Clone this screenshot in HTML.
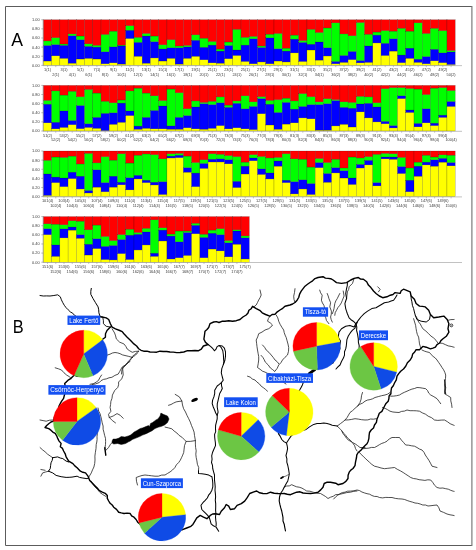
<!DOCTYPE html>
<html><head><meta charset="utf-8"><title>Figure</title>
<style>html,body{margin:0;padding:0;background:#fff;}body{width:476px;height:550px;position:relative;overflow:hidden;font-family:"Liberation Sans",sans-serif;}</style></head>
<body>
<svg width="476" height="550" viewBox="0 0 476 550" style="display:block;position:absolute;left:0;top:0;filter:blur(0.35px)" font-family="'Liberation Sans', sans-serif">
<rect x="0" y="0" width="476" height="550" fill="#fff"/>
<path d="M471.9,6.5 L5.5,6.5 L5.5,545.5 L471.9,545.5" fill="none" stroke="#5c5c5c" stroke-width="1"/><line x1="471.9" y1="6" x2="471.9" y2="546" stroke="#707070" stroke-width="1.1"/>
<text x="11.2" y="45.9" font-size="17.6" fill="#000">A</text>
<text transform="translate(12.7,333) scale(0.88,1)" font-size="18.6" fill="#000">B</text>
<g stroke="#000" stroke-opacity="0.45" stroke-width="0.35"><rect x="43.40" y="61.02" width="8.24" height="4.33" fill="#ffff00"/><rect x="43.40" y="45.42" width="8.24" height="15.60" fill="#0000ff"/><rect x="43.40" y="40.91" width="8.24" height="4.51" fill="#00ff00"/><rect x="43.40" y="19.75" width="8.24" height="21.16" fill="#ff0000"/><rect x="51.64" y="55.77" width="8.24" height="9.58" fill="#ffff00"/><rect x="51.64" y="44.56" width="8.24" height="11.22" fill="#0000ff"/><rect x="51.64" y="37.67" width="8.24" height="6.89" fill="#00ff00"/><rect x="51.64" y="19.75" width="8.24" height="17.92" fill="#ff0000"/><rect x="59.87" y="58.28" width="8.24" height="7.07" fill="#ffff00"/><rect x="59.87" y="45.29" width="8.24" height="13.00" fill="#0000ff"/><rect x="59.87" y="44.01" width="8.24" height="1.28" fill="#00ff00"/><rect x="59.87" y="19.75" width="8.24" height="24.26" fill="#ff0000"/><rect x="68.11" y="63.16" width="8.24" height="2.19" fill="#ffff00"/><rect x="68.11" y="35.71" width="8.24" height="27.45" fill="#0000ff"/><rect x="68.11" y="33.89" width="8.24" height="1.82" fill="#00ff00"/><rect x="68.11" y="19.75" width="8.24" height="14.14" fill="#ff0000"/><rect x="76.34" y="59.01" width="8.24" height="6.34" fill="#ffff00"/><rect x="76.34" y="39.68" width="8.24" height="19.33" fill="#0000ff"/><rect x="76.34" y="36.03" width="8.24" height="3.65" fill="#00ff00"/><rect x="76.34" y="19.75" width="8.24" height="16.28" fill="#ff0000"/><rect x="84.58" y="58.28" width="8.24" height="7.07" fill="#ffff00"/><rect x="84.58" y="46.33" width="8.24" height="11.95" fill="#0000ff"/><rect x="84.58" y="43.83" width="8.24" height="2.51" fill="#00ff00"/><rect x="84.58" y="19.75" width="8.24" height="24.08" fill="#ff0000"/><rect x="92.82" y="59.01" width="8.24" height="6.34" fill="#ffff00"/><rect x="92.82" y="47.11" width="8.24" height="11.90" fill="#0000ff"/><rect x="92.82" y="45.29" width="8.24" height="1.82" fill="#00ff00"/><rect x="92.82" y="19.75" width="8.24" height="25.54" fill="#ff0000"/><rect x="101.05" y="63.71" width="8.24" height="1.64" fill="#ffff00"/><rect x="101.05" y="51.76" width="8.24" height="11.95" fill="#0000ff"/><rect x="101.05" y="34.39" width="8.24" height="17.37" fill="#00ff00"/><rect x="101.05" y="19.75" width="8.24" height="14.64" fill="#ff0000"/><rect x="109.29" y="62.80" width="8.24" height="2.55" fill="#ffff00"/><rect x="109.29" y="46.88" width="8.24" height="15.91" fill="#0000ff"/><rect x="109.29" y="31.15" width="8.24" height="15.73" fill="#00ff00"/><rect x="109.29" y="19.75" width="8.24" height="11.40" fill="#ff0000"/><rect x="117.52" y="64.07" width="8.24" height="1.28" fill="#ffff00"/><rect x="117.52" y="45.97" width="8.24" height="18.10" fill="#0000ff"/><rect x="117.52" y="45.10" width="8.24" height="0.87" fill="#00ff00"/><rect x="117.52" y="19.75" width="8.24" height="25.35" fill="#ff0000"/><rect x="125.76" y="38.45" width="8.24" height="26.90" fill="#ffff00"/><rect x="125.76" y="30.24" width="8.24" height="8.21" fill="#0000ff"/><rect x="125.76" y="25.68" width="8.24" height="4.56" fill="#00ff00"/><rect x="125.76" y="19.75" width="8.24" height="5.93" fill="#ff0000"/><rect x="134.00" y="56.23" width="8.24" height="9.12" fill="#ffff00"/><rect x="134.00" y="42.32" width="8.24" height="13.91" fill="#0000ff"/><rect x="134.00" y="37.31" width="8.24" height="5.02" fill="#00ff00"/><rect x="134.00" y="19.75" width="8.24" height="17.56" fill="#ff0000"/><rect x="142.23" y="63.16" width="8.24" height="2.19" fill="#ffff00"/><rect x="142.23" y="36.03" width="8.24" height="27.13" fill="#0000ff"/><rect x="142.23" y="33.43" width="8.24" height="2.60" fill="#00ff00"/><rect x="142.23" y="19.75" width="8.24" height="13.68" fill="#ff0000"/><rect x="150.47" y="57.92" width="8.24" height="7.43" fill="#ffff00"/><rect x="150.47" y="41.64" width="8.24" height="16.28" fill="#0000ff"/><rect x="150.47" y="36.03" width="8.24" height="5.61" fill="#00ff00"/><rect x="150.47" y="19.75" width="8.24" height="16.28" fill="#ff0000"/><rect x="158.70" y="61.02" width="8.24" height="4.33" fill="#ffff00"/><rect x="158.70" y="48.93" width="8.24" height="12.08" fill="#0000ff"/><rect x="158.70" y="44.74" width="8.24" height="4.20" fill="#00ff00"/><rect x="158.70" y="19.75" width="8.24" height="24.99" fill="#ff0000"/><rect x="166.94" y="58.28" width="8.24" height="7.07" fill="#ffff00"/><rect x="166.94" y="47.79" width="8.24" height="10.49" fill="#0000ff"/><rect x="166.94" y="39.68" width="8.24" height="8.12" fill="#00ff00"/><rect x="166.94" y="19.75" width="8.24" height="19.93" fill="#ff0000"/><rect x="175.18" y="64.07" width="8.24" height="1.28" fill="#ffff00"/><rect x="175.18" y="47.79" width="8.24" height="16.28" fill="#0000ff"/><rect x="175.18" y="45.97" width="8.24" height="1.82" fill="#00ff00"/><rect x="175.18" y="19.75" width="8.24" height="26.22" fill="#ff0000"/><rect x="183.41" y="58.28" width="8.24" height="7.07" fill="#ffff00"/><rect x="183.41" y="46.88" width="8.24" height="11.40" fill="#0000ff"/><rect x="183.41" y="45.42" width="8.24" height="1.46" fill="#00ff00"/><rect x="183.41" y="19.75" width="8.24" height="25.67" fill="#ff0000"/><rect x="191.65" y="56.23" width="8.24" height="9.12" fill="#ffff00"/><rect x="191.65" y="40.27" width="8.24" height="15.96" fill="#0000ff"/><rect x="191.65" y="34.80" width="8.24" height="5.47" fill="#00ff00"/><rect x="191.65" y="19.75" width="8.24" height="15.05" fill="#ff0000"/><rect x="199.88" y="59.74" width="8.24" height="5.61" fill="#ffff00"/><rect x="199.88" y="47.25" width="8.24" height="12.49" fill="#0000ff"/><rect x="199.88" y="38.22" width="8.24" height="9.03" fill="#00ff00"/><rect x="199.88" y="19.75" width="8.24" height="18.47" fill="#ff0000"/><rect x="208.12" y="62.80" width="8.24" height="2.55" fill="#ffff00"/><rect x="208.12" y="45.10" width="8.24" height="17.69" fill="#0000ff"/><rect x="208.12" y="41.46" width="8.24" height="3.65" fill="#00ff00"/><rect x="208.12" y="19.75" width="8.24" height="21.71" fill="#ff0000"/><rect x="216.36" y="63.16" width="8.24" height="2.19" fill="#ffff00"/><rect x="216.36" y="51.08" width="8.24" height="12.08" fill="#0000ff"/><rect x="216.36" y="49.07" width="8.24" height="2.01" fill="#00ff00"/><rect x="216.36" y="19.75" width="8.24" height="29.32" fill="#ff0000"/><rect x="224.59" y="58.65" width="8.24" height="6.70" fill="#ffff00"/><rect x="224.59" y="45.42" width="8.24" height="13.22" fill="#0000ff"/><rect x="224.59" y="42.00" width="8.24" height="3.42" fill="#00ff00"/><rect x="224.59" y="19.75" width="8.24" height="22.25" fill="#ff0000"/><rect x="232.83" y="55.41" width="8.24" height="9.94" fill="#ffff00"/><rect x="232.83" y="49.98" width="8.24" height="5.43" fill="#0000ff"/><rect x="232.83" y="29.33" width="8.24" height="20.66" fill="#00ff00"/><rect x="232.83" y="19.75" width="8.24" height="9.58" fill="#ff0000"/><rect x="241.06" y="61.38" width="8.24" height="3.97" fill="#ffff00"/><rect x="241.06" y="45.10" width="8.24" height="16.28" fill="#0000ff"/><rect x="241.06" y="37.31" width="8.24" height="7.80" fill="#00ff00"/><rect x="241.06" y="19.75" width="8.24" height="17.56" fill="#ff0000"/><rect x="249.30" y="63.71" width="8.24" height="1.64" fill="#ffff00"/><rect x="249.30" y="38.77" width="8.24" height="24.94" fill="#0000ff"/><rect x="249.30" y="36.39" width="8.24" height="2.37" fill="#00ff00"/><rect x="249.30" y="19.75" width="8.24" height="16.64" fill="#ff0000"/><rect x="257.54" y="61.93" width="8.24" height="3.42" fill="#ffff00"/><rect x="257.54" y="47.43" width="8.24" height="14.50" fill="#0000ff"/><rect x="257.54" y="45.97" width="8.24" height="1.46" fill="#00ff00"/><rect x="257.54" y="19.75" width="8.24" height="26.22" fill="#ff0000"/><rect x="265.77" y="63.71" width="8.24" height="1.64" fill="#ffff00"/><rect x="265.77" y="37.85" width="8.24" height="25.86" fill="#0000ff"/><rect x="265.77" y="34.21" width="8.24" height="3.65" fill="#00ff00"/><rect x="265.77" y="19.75" width="8.24" height="14.46" fill="#ff0000"/><rect x="274.01" y="61.02" width="8.24" height="4.33" fill="#ffff00"/><rect x="274.01" y="48.71" width="8.24" height="12.31" fill="#0000ff"/><rect x="274.01" y="33.43" width="8.24" height="15.28" fill="#00ff00"/><rect x="274.01" y="19.75" width="8.24" height="13.68" fill="#ff0000"/><rect x="282.24" y="61.93" width="8.24" height="3.42" fill="#ffff00"/><rect x="282.24" y="51.08" width="8.24" height="10.85" fill="#0000ff"/><rect x="282.24" y="48.16" width="8.24" height="2.92" fill="#00ff00"/><rect x="282.24" y="19.75" width="8.24" height="28.41" fill="#ff0000"/><rect x="290.48" y="52.86" width="8.24" height="12.49" fill="#ffff00"/><rect x="290.48" y="39.13" width="8.24" height="13.73" fill="#0000ff"/><rect x="290.48" y="35.12" width="8.24" height="4.01" fill="#00ff00"/><rect x="290.48" y="19.75" width="8.24" height="15.37" fill="#ff0000"/><rect x="298.72" y="61.38" width="8.24" height="3.97" fill="#ffff00"/><rect x="298.72" y="42.37" width="8.24" height="19.02" fill="#0000ff"/><rect x="298.72" y="40.54" width="8.24" height="1.82" fill="#00ff00"/><rect x="298.72" y="19.75" width="8.24" height="20.79" fill="#ff0000"/><rect x="306.95" y="49.98" width="8.24" height="15.37" fill="#ffff00"/><rect x="306.95" y="44.19" width="8.24" height="5.79" fill="#0000ff"/><rect x="306.95" y="29.33" width="8.24" height="14.87" fill="#00ff00"/><rect x="306.95" y="19.75" width="8.24" height="9.58" fill="#ff0000"/><rect x="315.19" y="60.11" width="8.24" height="5.24" fill="#ffff00"/><rect x="315.19" y="42.00" width="8.24" height="18.10" fill="#0000ff"/><rect x="315.19" y="32.43" width="8.24" height="9.58" fill="#00ff00"/><rect x="315.19" y="19.75" width="8.24" height="12.68" fill="#ff0000"/><rect x="323.42" y="55.96" width="8.24" height="9.39" fill="#ffff00"/><rect x="323.42" y="47.79" width="8.24" height="8.16" fill="#0000ff"/><rect x="323.42" y="27.96" width="8.24" height="19.84" fill="#00ff00"/><rect x="323.42" y="19.75" width="8.24" height="8.21" fill="#ff0000"/><rect x="331.66" y="63.71" width="8.24" height="1.64" fill="#ffff00"/><rect x="331.66" y="61.38" width="8.24" height="2.33" fill="#0000ff"/><rect x="331.66" y="22.81" width="8.24" height="38.58" fill="#00ff00"/><rect x="331.66" y="19.75" width="8.24" height="3.06" fill="#ff0000"/><rect x="339.90" y="62.29" width="8.24" height="3.06" fill="#ffff00"/><rect x="339.90" y="55.41" width="8.24" height="6.89" fill="#0000ff"/><rect x="339.90" y="33.89" width="8.24" height="21.52" fill="#00ff00"/><rect x="339.90" y="19.75" width="8.24" height="14.14" fill="#ff0000"/><rect x="348.13" y="59.56" width="8.24" height="5.79" fill="#ffff00"/><rect x="348.13" y="51.40" width="8.24" height="8.16" fill="#0000ff"/><rect x="348.13" y="35.71" width="8.24" height="15.69" fill="#00ff00"/><rect x="348.13" y="19.75" width="8.24" height="15.96" fill="#ff0000"/><rect x="356.37" y="62.80" width="8.24" height="2.55" fill="#ffff00"/><rect x="356.37" y="60.47" width="8.24" height="2.33" fill="#0000ff"/><rect x="356.37" y="22.49" width="8.24" height="37.98" fill="#00ff00"/><rect x="356.37" y="19.75" width="8.24" height="2.74" fill="#ff0000"/><rect x="364.60" y="62.29" width="8.24" height="3.06" fill="#ffff00"/><rect x="364.60" y="45.97" width="8.24" height="16.32" fill="#0000ff"/><rect x="364.60" y="34.21" width="8.24" height="11.76" fill="#00ff00"/><rect x="364.60" y="19.75" width="8.24" height="14.46" fill="#ff0000"/><rect x="372.84" y="42.91" width="8.24" height="22.44" fill="#ffff00"/><rect x="372.84" y="35.12" width="8.24" height="7.80" fill="#0000ff"/><rect x="372.84" y="32.06" width="8.24" height="3.06" fill="#00ff00"/><rect x="372.84" y="19.75" width="8.24" height="12.31" fill="#ff0000"/><rect x="381.08" y="55.41" width="8.24" height="9.94" fill="#ffff00"/><rect x="381.08" y="43.28" width="8.24" height="12.13" fill="#0000ff"/><rect x="381.08" y="30.60" width="8.24" height="12.68" fill="#00ff00"/><rect x="381.08" y="19.75" width="8.24" height="10.85" fill="#ff0000"/><rect x="389.31" y="51.08" width="8.24" height="14.27" fill="#ffff00"/><rect x="389.31" y="38.77" width="8.24" height="12.31" fill="#0000ff"/><rect x="389.31" y="31.15" width="8.24" height="7.62" fill="#00ff00"/><rect x="389.31" y="19.75" width="8.24" height="11.40" fill="#ff0000"/><rect x="397.55" y="62.61" width="8.24" height="2.74" fill="#ffff00"/><rect x="397.55" y="55.04" width="8.24" height="7.57" fill="#0000ff"/><rect x="397.55" y="28.28" width="8.24" height="26.77" fill="#00ff00"/><rect x="397.55" y="19.75" width="8.24" height="8.53" fill="#ff0000"/><rect x="405.78" y="58.28" width="8.24" height="7.07" fill="#ffff00"/><rect x="405.78" y="48.16" width="8.24" height="10.12" fill="#0000ff"/><rect x="405.78" y="31.15" width="8.24" height="17.01" fill="#00ff00"/><rect x="405.78" y="19.75" width="8.24" height="11.40" fill="#ff0000"/><rect x="414.02" y="62.29" width="8.24" height="3.06" fill="#ffff00"/><rect x="414.02" y="59.19" width="8.24" height="3.10" fill="#0000ff"/><rect x="414.02" y="22.81" width="8.24" height="36.39" fill="#00ff00"/><rect x="414.02" y="19.75" width="8.24" height="3.06" fill="#ff0000"/><rect x="422.26" y="63.71" width="8.24" height="1.64" fill="#ffff00"/><rect x="422.26" y="56.50" width="8.24" height="7.20" fill="#0000ff"/><rect x="422.26" y="33.43" width="8.24" height="23.07" fill="#00ff00"/><rect x="422.26" y="19.75" width="8.24" height="13.68" fill="#ff0000"/><rect x="430.49" y="60.79" width="8.24" height="4.56" fill="#ffff00"/><rect x="430.49" y="49.25" width="8.24" height="11.54" fill="#0000ff"/><rect x="430.49" y="28.28" width="8.24" height="20.98" fill="#00ff00"/><rect x="430.49" y="19.75" width="8.24" height="8.53" fill="#ff0000"/><rect x="438.73" y="62.61" width="8.24" height="2.74" fill="#ffff00"/><rect x="438.73" y="52.86" width="8.24" height="9.76" fill="#0000ff"/><rect x="438.73" y="30.60" width="8.24" height="22.25" fill="#00ff00"/><rect x="438.73" y="19.75" width="8.24" height="10.85" fill="#ff0000"/><rect x="446.96" y="64.44" width="8.24" height="0.91" fill="#ffff00"/><rect x="446.96" y="51.94" width="8.24" height="12.49" fill="#0000ff"/><rect x="446.96" y="50.53" width="8.24" height="1.41" fill="#00ff00"/><rect x="446.96" y="19.75" width="8.24" height="30.78" fill="#ff0000"/></g>
<line x1="43.1" y1="65.65" x2="462.0" y2="65.65" stroke="#999" stroke-width="0.6"/>
<line x1="43.1" y1="19.75" x2="43.1" y2="65.65" stroke="#777" stroke-width="0.5"/>
<line x1="41.3" y1="65.35" x2="43.1" y2="65.35" stroke="#666" stroke-width="0.45"/><text x="39.6" y="66.75" font-size="3.9" text-anchor="end" fill="#3a3a3a">0.00</text><line x1="41.3" y1="56.23" x2="43.1" y2="56.23" stroke="#666" stroke-width="0.45"/><text x="39.6" y="57.63" font-size="3.9" text-anchor="end" fill="#3a3a3a">0.20</text><line x1="41.3" y1="47.11" x2="43.1" y2="47.11" stroke="#666" stroke-width="0.45"/><text x="39.6" y="48.51" font-size="3.9" text-anchor="end" fill="#3a3a3a">0.40</text><line x1="41.3" y1="37.99" x2="43.1" y2="37.99" stroke="#666" stroke-width="0.45"/><text x="39.6" y="39.39" font-size="3.9" text-anchor="end" fill="#3a3a3a">0.60</text><line x1="41.3" y1="28.87" x2="43.1" y2="28.87" stroke="#666" stroke-width="0.45"/><text x="39.6" y="30.27" font-size="3.9" text-anchor="end" fill="#3a3a3a">0.80</text><line x1="41.3" y1="19.75" x2="43.1" y2="19.75" stroke="#666" stroke-width="0.45"/><text x="39.6" y="21.15" font-size="3.9" text-anchor="end" fill="#3a3a3a">1.00</text>
<line x1="47.52" y1="65.65" x2="47.52" y2="67.15" stroke="#777" stroke-width="0.4"/><text x="47.52" y="70.95" font-size="3.9" text-anchor="middle" fill="#3a3a3a">1(1)</text><line x1="55.75" y1="65.65" x2="55.75" y2="67.15" stroke="#777" stroke-width="0.4"/><text x="55.75" y="75.65" font-size="3.9" text-anchor="middle" fill="#3a3a3a">2(1)</text><line x1="63.99" y1="65.65" x2="63.99" y2="67.15" stroke="#777" stroke-width="0.4"/><text x="63.99" y="70.95" font-size="3.9" text-anchor="middle" fill="#3a3a3a">3(1)</text><line x1="72.23" y1="65.65" x2="72.23" y2="67.15" stroke="#777" stroke-width="0.4"/><text x="72.23" y="75.65" font-size="3.9" text-anchor="middle" fill="#3a3a3a">4(1)</text><line x1="80.46" y1="65.65" x2="80.46" y2="67.15" stroke="#777" stroke-width="0.4"/><text x="80.46" y="70.95" font-size="3.9" text-anchor="middle" fill="#3a3a3a">5(1)</text><line x1="88.70" y1="65.65" x2="88.70" y2="67.15" stroke="#777" stroke-width="0.4"/><text x="88.70" y="75.65" font-size="3.9" text-anchor="middle" fill="#3a3a3a">6(1)</text><line x1="96.93" y1="65.65" x2="96.93" y2="67.15" stroke="#777" stroke-width="0.4"/><text x="96.93" y="70.95" font-size="3.9" text-anchor="middle" fill="#3a3a3a">7(1)</text><line x1="105.17" y1="65.65" x2="105.17" y2="67.15" stroke="#777" stroke-width="0.4"/><text x="105.17" y="75.65" font-size="3.9" text-anchor="middle" fill="#3a3a3a">8(1)</text><line x1="113.41" y1="65.65" x2="113.41" y2="67.15" stroke="#777" stroke-width="0.4"/><text x="113.41" y="70.95" font-size="3.9" text-anchor="middle" fill="#3a3a3a">9(1)</text><line x1="121.64" y1="65.65" x2="121.64" y2="67.15" stroke="#777" stroke-width="0.4"/><text x="121.64" y="75.65" font-size="3.9" text-anchor="middle" fill="#3a3a3a">10(1)</text><line x1="129.88" y1="65.65" x2="129.88" y2="67.15" stroke="#777" stroke-width="0.4"/><text x="129.88" y="70.95" font-size="3.9" text-anchor="middle" fill="#3a3a3a">11(1)</text><line x1="138.11" y1="65.65" x2="138.11" y2="67.15" stroke="#777" stroke-width="0.4"/><text x="138.11" y="75.65" font-size="3.9" text-anchor="middle" fill="#3a3a3a">12(1)</text><line x1="146.35" y1="65.65" x2="146.35" y2="67.15" stroke="#777" stroke-width="0.4"/><text x="146.35" y="70.95" font-size="3.9" text-anchor="middle" fill="#3a3a3a">13(1)</text><line x1="154.59" y1="65.65" x2="154.59" y2="67.15" stroke="#777" stroke-width="0.4"/><text x="154.59" y="75.65" font-size="3.9" text-anchor="middle" fill="#3a3a3a">14(1)</text><line x1="162.82" y1="65.65" x2="162.82" y2="67.15" stroke="#777" stroke-width="0.4"/><text x="162.82" y="70.95" font-size="3.9" text-anchor="middle" fill="#3a3a3a">15(1)</text><line x1="171.06" y1="65.65" x2="171.06" y2="67.15" stroke="#777" stroke-width="0.4"/><text x="171.06" y="75.65" font-size="3.9" text-anchor="middle" fill="#3a3a3a">16(1)</text><line x1="179.29" y1="65.65" x2="179.29" y2="67.15" stroke="#777" stroke-width="0.4"/><text x="179.29" y="70.95" font-size="3.9" text-anchor="middle" fill="#3a3a3a">17(1)</text><line x1="187.53" y1="65.65" x2="187.53" y2="67.15" stroke="#777" stroke-width="0.4"/><text x="187.53" y="75.65" font-size="3.9" text-anchor="middle" fill="#3a3a3a">18(1)</text><line x1="195.77" y1="65.65" x2="195.77" y2="67.15" stroke="#777" stroke-width="0.4"/><text x="195.77" y="70.95" font-size="3.9" text-anchor="middle" fill="#3a3a3a">19(1)</text><line x1="204.00" y1="65.65" x2="204.00" y2="67.15" stroke="#777" stroke-width="0.4"/><text x="204.00" y="75.65" font-size="3.9" text-anchor="middle" fill="#3a3a3a">20(1)</text><line x1="212.24" y1="65.65" x2="212.24" y2="67.15" stroke="#777" stroke-width="0.4"/><text x="212.24" y="70.95" font-size="3.9" text-anchor="middle" fill="#3a3a3a">21(1)</text><line x1="220.47" y1="65.65" x2="220.47" y2="67.15" stroke="#777" stroke-width="0.4"/><text x="220.47" y="75.65" font-size="3.9" text-anchor="middle" fill="#3a3a3a">22(1)</text><line x1="228.71" y1="65.65" x2="228.71" y2="67.15" stroke="#777" stroke-width="0.4"/><text x="228.71" y="70.95" font-size="3.9" text-anchor="middle" fill="#3a3a3a">23(1)</text><line x1="236.95" y1="65.65" x2="236.95" y2="67.15" stroke="#777" stroke-width="0.4"/><text x="236.95" y="75.65" font-size="3.9" text-anchor="middle" fill="#3a3a3a">24(1)</text><line x1="245.18" y1="65.65" x2="245.18" y2="67.15" stroke="#777" stroke-width="0.4"/><text x="245.18" y="70.95" font-size="3.9" text-anchor="middle" fill="#3a3a3a">25(1)</text><line x1="253.42" y1="65.65" x2="253.42" y2="67.15" stroke="#777" stroke-width="0.4"/><text x="253.42" y="75.65" font-size="3.9" text-anchor="middle" fill="#3a3a3a">26(1)</text><line x1="261.65" y1="65.65" x2="261.65" y2="67.15" stroke="#777" stroke-width="0.4"/><text x="261.65" y="70.95" font-size="3.9" text-anchor="middle" fill="#3a3a3a">27(1)</text><line x1="269.89" y1="65.65" x2="269.89" y2="67.15" stroke="#777" stroke-width="0.4"/><text x="269.89" y="75.65" font-size="3.9" text-anchor="middle" fill="#3a3a3a">28(1)</text><line x1="278.13" y1="65.65" x2="278.13" y2="67.15" stroke="#777" stroke-width="0.4"/><text x="278.13" y="70.95" font-size="3.9" text-anchor="middle" fill="#3a3a3a">29(1)</text><line x1="286.36" y1="65.65" x2="286.36" y2="67.15" stroke="#777" stroke-width="0.4"/><text x="286.36" y="75.65" font-size="3.9" text-anchor="middle" fill="#3a3a3a">30(1)</text><line x1="294.60" y1="65.65" x2="294.60" y2="67.15" stroke="#777" stroke-width="0.4"/><text x="294.60" y="70.95" font-size="3.9" text-anchor="middle" fill="#3a3a3a">31(1)</text><line x1="302.83" y1="65.65" x2="302.83" y2="67.15" stroke="#777" stroke-width="0.4"/><text x="302.83" y="75.65" font-size="3.9" text-anchor="middle" fill="#3a3a3a">32(1)</text><line x1="311.07" y1="65.65" x2="311.07" y2="67.15" stroke="#777" stroke-width="0.4"/><text x="311.07" y="70.95" font-size="3.9" text-anchor="middle" fill="#3a3a3a">33(1)</text><line x1="319.31" y1="65.65" x2="319.31" y2="67.15" stroke="#777" stroke-width="0.4"/><text x="319.31" y="75.65" font-size="3.9" text-anchor="middle" fill="#3a3a3a">34(1)</text><line x1="327.54" y1="65.65" x2="327.54" y2="67.15" stroke="#777" stroke-width="0.4"/><text x="327.54" y="70.95" font-size="3.9" text-anchor="middle" fill="#3a3a3a">35(2)</text><line x1="335.78" y1="65.65" x2="335.78" y2="67.15" stroke="#777" stroke-width="0.4"/><text x="335.78" y="75.65" font-size="3.9" text-anchor="middle" fill="#3a3a3a">36(2)</text><line x1="344.01" y1="65.65" x2="344.01" y2="67.15" stroke="#777" stroke-width="0.4"/><text x="344.01" y="70.95" font-size="3.9" text-anchor="middle" fill="#3a3a3a">37(2)</text><line x1="352.25" y1="65.65" x2="352.25" y2="67.15" stroke="#777" stroke-width="0.4"/><text x="352.25" y="75.65" font-size="3.9" text-anchor="middle" fill="#3a3a3a">38(2)</text><line x1="360.49" y1="65.65" x2="360.49" y2="67.15" stroke="#777" stroke-width="0.4"/><text x="360.49" y="70.95" font-size="3.9" text-anchor="middle" fill="#3a3a3a">39(2)</text><line x1="368.72" y1="65.65" x2="368.72" y2="67.15" stroke="#777" stroke-width="0.4"/><text x="368.72" y="75.65" font-size="3.9" text-anchor="middle" fill="#3a3a3a">40(2)</text><line x1="376.96" y1="65.65" x2="376.96" y2="67.15" stroke="#777" stroke-width="0.4"/><text x="376.96" y="70.95" font-size="3.9" text-anchor="middle" fill="#3a3a3a">41(2)</text><line x1="385.19" y1="65.65" x2="385.19" y2="67.15" stroke="#777" stroke-width="0.4"/><text x="385.19" y="75.65" font-size="3.9" text-anchor="middle" fill="#3a3a3a">42(2)</text><line x1="393.43" y1="65.65" x2="393.43" y2="67.15" stroke="#777" stroke-width="0.4"/><text x="393.43" y="70.95" font-size="3.9" text-anchor="middle" fill="#3a3a3a">43(2)</text><line x1="401.67" y1="65.65" x2="401.67" y2="67.15" stroke="#777" stroke-width="0.4"/><text x="401.67" y="75.65" font-size="3.9" text-anchor="middle" fill="#3a3a3a">44(2)</text><line x1="409.90" y1="65.65" x2="409.90" y2="67.15" stroke="#777" stroke-width="0.4"/><text x="409.90" y="70.95" font-size="3.9" text-anchor="middle" fill="#3a3a3a">45(2)</text><line x1="418.14" y1="65.65" x2="418.14" y2="67.15" stroke="#777" stroke-width="0.4"/><text x="418.14" y="75.65" font-size="3.9" text-anchor="middle" fill="#3a3a3a">46(2)</text><line x1="426.37" y1="65.65" x2="426.37" y2="67.15" stroke="#777" stroke-width="0.4"/><text x="426.37" y="70.95" font-size="3.9" text-anchor="middle" fill="#3a3a3a">47(2)</text><line x1="434.61" y1="65.65" x2="434.61" y2="67.15" stroke="#777" stroke-width="0.4"/><text x="434.61" y="75.65" font-size="3.9" text-anchor="middle" fill="#3a3a3a">48(2)</text><line x1="442.85" y1="65.65" x2="442.85" y2="67.15" stroke="#777" stroke-width="0.4"/><text x="442.85" y="70.95" font-size="3.9" text-anchor="middle" fill="#3a3a3a">49(2)</text><line x1="451.08" y1="65.65" x2="451.08" y2="67.15" stroke="#777" stroke-width="0.4"/><text x="451.08" y="75.65" font-size="3.9" text-anchor="middle" fill="#3a3a3a">50(2)</text>
<g stroke="#000" stroke-opacity="0.45" stroke-width="0.35"><rect x="43.40" y="122.79" width="8.24" height="8.21" fill="#ffff00"/><rect x="43.40" y="104.19" width="8.24" height="18.60" fill="#0000ff"/><rect x="43.40" y="100.36" width="8.24" height="3.83" fill="#00ff00"/><rect x="43.40" y="85.40" width="8.24" height="14.96" fill="#ff0000"/><rect x="51.64" y="128.81" width="8.24" height="2.19" fill="#ffff00"/><rect x="51.64" y="122.24" width="8.24" height="6.57" fill="#0000ff"/><rect x="51.64" y="90.87" width="8.24" height="31.37" fill="#00ff00"/><rect x="51.64" y="85.40" width="8.24" height="5.47" fill="#ff0000"/><rect x="59.87" y="127.35" width="8.24" height="3.65" fill="#ffff00"/><rect x="59.87" y="110.94" width="8.24" height="16.42" fill="#0000ff"/><rect x="59.87" y="95.07" width="8.24" height="15.87" fill="#00ff00"/><rect x="59.87" y="85.40" width="8.24" height="9.67" fill="#ff0000"/><rect x="68.11" y="124.62" width="8.24" height="6.38" fill="#ffff00"/><rect x="68.11" y="120.42" width="8.24" height="4.20" fill="#0000ff"/><rect x="68.11" y="91.24" width="8.24" height="29.18" fill="#00ff00"/><rect x="68.11" y="85.40" width="8.24" height="5.84" fill="#ff0000"/><rect x="76.34" y="128.63" width="8.24" height="2.37" fill="#ffff00"/><rect x="76.34" y="105.46" width="8.24" height="23.16" fill="#0000ff"/><rect x="76.34" y="96.71" width="8.24" height="8.76" fill="#00ff00"/><rect x="76.34" y="85.40" width="8.24" height="11.31" fill="#ff0000"/><rect x="84.58" y="127.35" width="8.24" height="3.65" fill="#ffff00"/><rect x="84.58" y="123.70" width="8.24" height="3.65" fill="#0000ff"/><rect x="84.58" y="89.41" width="8.24" height="34.29" fill="#00ff00"/><rect x="84.58" y="85.40" width="8.24" height="4.01" fill="#ff0000"/><rect x="92.82" y="128.26" width="8.24" height="2.74" fill="#ffff00"/><rect x="92.82" y="117.32" width="8.24" height="10.94" fill="#0000ff"/><rect x="92.82" y="93.06" width="8.24" height="24.26" fill="#00ff00"/><rect x="92.82" y="85.40" width="8.24" height="7.66" fill="#ff0000"/><rect x="101.05" y="130.54" width="8.24" height="0.46" fill="#ffff00"/><rect x="101.05" y="113.31" width="8.24" height="17.24" fill="#0000ff"/><rect x="101.05" y="101.27" width="8.24" height="12.04" fill="#00ff00"/><rect x="101.05" y="85.40" width="8.24" height="15.87" fill="#ff0000"/><rect x="109.29" y="124.25" width="8.24" height="6.75" fill="#ffff00"/><rect x="109.29" y="112.76" width="8.24" height="11.49" fill="#0000ff"/><rect x="109.29" y="102.73" width="8.24" height="10.03" fill="#00ff00"/><rect x="109.29" y="85.40" width="8.24" height="17.33" fill="#ff0000"/><rect x="117.52" y="122.24" width="8.24" height="8.76" fill="#ffff00"/><rect x="117.52" y="103.09" width="8.24" height="19.15" fill="#0000ff"/><rect x="117.52" y="99.99" width="8.24" height="3.10" fill="#00ff00"/><rect x="117.52" y="85.40" width="8.24" height="14.59" fill="#ff0000"/><rect x="125.76" y="115.50" width="8.24" height="15.50" fill="#ffff00"/><rect x="125.76" y="110.94" width="8.24" height="4.56" fill="#0000ff"/><rect x="125.76" y="90.87" width="8.24" height="20.06" fill="#00ff00"/><rect x="125.76" y="85.40" width="8.24" height="5.47" fill="#ff0000"/><rect x="134.00" y="129.18" width="8.24" height="1.82" fill="#ffff00"/><rect x="134.00" y="126.08" width="8.24" height="3.10" fill="#0000ff"/><rect x="134.00" y="88.14" width="8.24" height="37.94" fill="#00ff00"/><rect x="134.00" y="85.40" width="8.24" height="2.74" fill="#ff0000"/><rect x="142.23" y="128.26" width="8.24" height="2.74" fill="#ffff00"/><rect x="142.23" y="117.32" width="8.24" height="10.94" fill="#0000ff"/><rect x="142.23" y="93.06" width="8.24" height="24.26" fill="#00ff00"/><rect x="142.23" y="85.40" width="8.24" height="7.66" fill="#ff0000"/><rect x="150.47" y="128.81" width="8.24" height="2.19" fill="#ffff00"/><rect x="150.47" y="110.39" width="8.24" height="18.42" fill="#0000ff"/><rect x="150.47" y="95.80" width="8.24" height="14.59" fill="#00ff00"/><rect x="150.47" y="85.40" width="8.24" height="10.40" fill="#ff0000"/><rect x="158.70" y="128.81" width="8.24" height="2.19" fill="#ffff00"/><rect x="158.70" y="106.01" width="8.24" height="22.80" fill="#0000ff"/><rect x="158.70" y="100.54" width="8.24" height="5.47" fill="#00ff00"/><rect x="158.70" y="85.40" width="8.24" height="15.14" fill="#ff0000"/><rect x="166.94" y="129.18" width="8.24" height="1.82" fill="#ffff00"/><rect x="166.94" y="125.89" width="8.24" height="3.28" fill="#0000ff"/><rect x="166.94" y="89.05" width="8.24" height="36.84" fill="#00ff00"/><rect x="166.94" y="85.40" width="8.24" height="3.65" fill="#ff0000"/><rect x="175.18" y="129.18" width="8.24" height="1.82" fill="#ffff00"/><rect x="175.18" y="117.32" width="8.24" height="11.86" fill="#0000ff"/><rect x="175.18" y="92.70" width="8.24" height="24.62" fill="#00ff00"/><rect x="175.18" y="85.40" width="8.24" height="7.30" fill="#ff0000"/><rect x="183.41" y="127.72" width="8.24" height="3.28" fill="#ffff00"/><rect x="183.41" y="115.50" width="8.24" height="12.22" fill="#0000ff"/><rect x="183.41" y="108.75" width="8.24" height="6.75" fill="#00ff00"/><rect x="183.41" y="85.40" width="8.24" height="23.35" fill="#ff0000"/><rect x="191.65" y="128.81" width="8.24" height="2.19" fill="#ffff00"/><rect x="191.65" y="106.92" width="8.24" height="21.89" fill="#0000ff"/><rect x="191.65" y="100.90" width="8.24" height="6.02" fill="#00ff00"/><rect x="191.65" y="85.40" width="8.24" height="15.50" fill="#ff0000"/><rect x="199.88" y="129.18" width="8.24" height="1.82" fill="#ffff00"/><rect x="199.88" y="103.64" width="8.24" height="25.54" fill="#0000ff"/><rect x="199.88" y="102.36" width="8.24" height="1.28" fill="#00ff00"/><rect x="199.88" y="85.40" width="8.24" height="16.96" fill="#ff0000"/><rect x="208.12" y="128.26" width="8.24" height="2.74" fill="#ffff00"/><rect x="208.12" y="104.55" width="8.24" height="23.71" fill="#0000ff"/><rect x="208.12" y="101.27" width="8.24" height="3.28" fill="#00ff00"/><rect x="208.12" y="85.40" width="8.24" height="15.87" fill="#ff0000"/><rect x="216.36" y="125.53" width="8.24" height="5.47" fill="#ffff00"/><rect x="216.36" y="102.73" width="8.24" height="22.80" fill="#0000ff"/><rect x="216.36" y="96.89" width="8.24" height="5.84" fill="#00ff00"/><rect x="216.36" y="85.40" width="8.24" height="11.49" fill="#ff0000"/><rect x="224.59" y="128.81" width="8.24" height="2.19" fill="#ffff00"/><rect x="224.59" y="107.29" width="8.24" height="21.52" fill="#0000ff"/><rect x="224.59" y="105.10" width="8.24" height="2.19" fill="#00ff00"/><rect x="224.59" y="85.40" width="8.24" height="19.70" fill="#ff0000"/><rect x="232.83" y="127.72" width="8.24" height="3.28" fill="#ffff00"/><rect x="232.83" y="103.28" width="8.24" height="24.44" fill="#0000ff"/><rect x="232.83" y="100.90" width="8.24" height="2.37" fill="#00ff00"/><rect x="232.83" y="85.40" width="8.24" height="15.50" fill="#ff0000"/><rect x="241.06" y="128.81" width="8.24" height="2.19" fill="#ffff00"/><rect x="241.06" y="108.75" width="8.24" height="20.06" fill="#0000ff"/><rect x="241.06" y="95.80" width="8.24" height="12.95" fill="#00ff00"/><rect x="241.06" y="85.40" width="8.24" height="10.40" fill="#ff0000"/><rect x="249.30" y="129.54" width="8.24" height="1.46" fill="#ffff00"/><rect x="249.30" y="106.38" width="8.24" height="23.16" fill="#0000ff"/><rect x="249.30" y="101.82" width="8.24" height="4.56" fill="#00ff00"/><rect x="249.30" y="85.40" width="8.24" height="16.42" fill="#ff0000"/><rect x="257.54" y="113.67" width="8.24" height="17.33" fill="#ffff00"/><rect x="257.54" y="98.53" width="8.24" height="15.14" fill="#0000ff"/><rect x="257.54" y="96.71" width="8.24" height="1.82" fill="#00ff00"/><rect x="257.54" y="85.40" width="8.24" height="11.31" fill="#ff0000"/><rect x="265.77" y="124.98" width="8.24" height="6.02" fill="#ffff00"/><rect x="265.77" y="104.19" width="8.24" height="20.79" fill="#0000ff"/><rect x="265.77" y="100.36" width="8.24" height="3.83" fill="#00ff00"/><rect x="265.77" y="85.40" width="8.24" height="14.96" fill="#ff0000"/><rect x="274.01" y="129.18" width="8.24" height="1.82" fill="#ffff00"/><rect x="274.01" y="112.40" width="8.24" height="16.78" fill="#0000ff"/><rect x="274.01" y="99.63" width="8.24" height="12.77" fill="#00ff00"/><rect x="274.01" y="85.40" width="8.24" height="14.23" fill="#ff0000"/><rect x="282.24" y="124.07" width="8.24" height="6.93" fill="#ffff00"/><rect x="282.24" y="102.36" width="8.24" height="21.71" fill="#0000ff"/><rect x="282.24" y="98.17" width="8.24" height="4.20" fill="#00ff00"/><rect x="282.24" y="85.40" width="8.24" height="12.77" fill="#ff0000"/><rect x="290.48" y="122.79" width="8.24" height="8.21" fill="#ffff00"/><rect x="290.48" y="109.11" width="8.24" height="13.68" fill="#0000ff"/><rect x="290.48" y="100.90" width="8.24" height="8.21" fill="#00ff00"/><rect x="290.48" y="85.40" width="8.24" height="15.50" fill="#ff0000"/><rect x="298.72" y="117.87" width="8.24" height="13.13" fill="#ffff00"/><rect x="298.72" y="106.38" width="8.24" height="11.49" fill="#0000ff"/><rect x="298.72" y="93.61" width="8.24" height="12.77" fill="#00ff00"/><rect x="298.72" y="85.40" width="8.24" height="8.21" fill="#ff0000"/><rect x="306.95" y="118.78" width="8.24" height="12.22" fill="#ffff00"/><rect x="306.95" y="104.55" width="8.24" height="14.23" fill="#0000ff"/><rect x="306.95" y="96.71" width="8.24" height="7.84" fill="#00ff00"/><rect x="306.95" y="85.40" width="8.24" height="11.31" fill="#ff0000"/><rect x="315.19" y="130.09" width="8.24" height="0.91" fill="#ffff00"/><rect x="315.19" y="104.55" width="8.24" height="25.54" fill="#0000ff"/><rect x="315.19" y="101.82" width="8.24" height="2.74" fill="#00ff00"/><rect x="315.19" y="85.40" width="8.24" height="16.42" fill="#ff0000"/><rect x="323.42" y="130.09" width="8.24" height="0.91" fill="#ffff00"/><rect x="323.42" y="103.64" width="8.24" height="26.45" fill="#0000ff"/><rect x="323.42" y="98.72" width="8.24" height="4.92" fill="#00ff00"/><rect x="323.42" y="85.40" width="8.24" height="13.32" fill="#ff0000"/><rect x="331.66" y="125.89" width="8.24" height="5.11" fill="#ffff00"/><rect x="331.66" y="100.54" width="8.24" height="25.35" fill="#0000ff"/><rect x="331.66" y="99.63" width="8.24" height="0.91" fill="#00ff00"/><rect x="331.66" y="85.40" width="8.24" height="14.23" fill="#ff0000"/><rect x="339.90" y="124.25" width="8.24" height="6.75" fill="#ffff00"/><rect x="339.90" y="107.29" width="8.24" height="16.96" fill="#0000ff"/><rect x="339.90" y="101.82" width="8.24" height="5.47" fill="#00ff00"/><rect x="339.90" y="85.40" width="8.24" height="16.42" fill="#ff0000"/><rect x="348.13" y="126.99" width="8.24" height="4.01" fill="#ffff00"/><rect x="348.13" y="108.20" width="8.24" height="18.79" fill="#0000ff"/><rect x="348.13" y="102.36" width="8.24" height="5.84" fill="#00ff00"/><rect x="348.13" y="85.40" width="8.24" height="16.96" fill="#ff0000"/><rect x="356.37" y="111.85" width="8.24" height="19.15" fill="#ffff00"/><rect x="356.37" y="104.00" width="8.24" height="7.84" fill="#0000ff"/><rect x="356.37" y="96.34" width="8.24" height="7.66" fill="#00ff00"/><rect x="356.37" y="85.40" width="8.24" height="10.94" fill="#ff0000"/><rect x="364.60" y="117.87" width="8.24" height="13.13" fill="#ffff00"/><rect x="364.60" y="103.28" width="8.24" height="14.59" fill="#0000ff"/><rect x="364.60" y="96.89" width="8.24" height="6.38" fill="#00ff00"/><rect x="364.60" y="85.40" width="8.24" height="11.49" fill="#ff0000"/><rect x="372.84" y="121.88" width="8.24" height="9.12" fill="#ffff00"/><rect x="372.84" y="106.92" width="8.24" height="14.96" fill="#0000ff"/><rect x="372.84" y="102.73" width="8.24" height="4.20" fill="#00ff00"/><rect x="372.84" y="85.40" width="8.24" height="17.33" fill="#ff0000"/><rect x="381.08" y="123.70" width="8.24" height="7.30" fill="#ffff00"/><rect x="381.08" y="121.33" width="8.24" height="2.37" fill="#0000ff"/><rect x="381.08" y="88.68" width="8.24" height="32.65" fill="#00ff00"/><rect x="381.08" y="85.40" width="8.24" height="3.28" fill="#ff0000"/><rect x="389.31" y="127.90" width="8.24" height="3.10" fill="#ffff00"/><rect x="389.31" y="125.53" width="8.24" height="2.37" fill="#0000ff"/><rect x="389.31" y="87.59" width="8.24" height="37.94" fill="#00ff00"/><rect x="389.31" y="85.40" width="8.24" height="2.19" fill="#ff0000"/><rect x="397.55" y="98.53" width="8.24" height="32.47" fill="#ffff00"/><rect x="397.55" y="95.80" width="8.24" height="2.74" fill="#0000ff"/><rect x="397.55" y="87.59" width="8.24" height="8.21" fill="#00ff00"/><rect x="397.55" y="85.40" width="8.24" height="2.19" fill="#ff0000"/><rect x="405.78" y="112.40" width="8.24" height="18.60" fill="#ffff00"/><rect x="405.78" y="110.02" width="8.24" height="2.37" fill="#0000ff"/><rect x="405.78" y="88.50" width="8.24" height="21.52" fill="#00ff00"/><rect x="405.78" y="85.40" width="8.24" height="3.10" fill="#ff0000"/><rect x="414.02" y="126.80" width="8.24" height="4.20" fill="#ffff00"/><rect x="414.02" y="123.34" width="8.24" height="3.47" fill="#0000ff"/><rect x="414.02" y="89.05" width="8.24" height="34.29" fill="#00ff00"/><rect x="414.02" y="85.40" width="8.24" height="3.65" fill="#ff0000"/><rect x="422.26" y="122.79" width="8.24" height="8.21" fill="#ffff00"/><rect x="422.26" y="108.75" width="8.24" height="14.04" fill="#0000ff"/><rect x="422.26" y="94.52" width="8.24" height="14.23" fill="#00ff00"/><rect x="422.26" y="85.40" width="8.24" height="9.12" fill="#ff0000"/><rect x="430.49" y="125.53" width="8.24" height="5.47" fill="#ffff00"/><rect x="430.49" y="123.16" width="8.24" height="2.37" fill="#0000ff"/><rect x="430.49" y="88.14" width="8.24" height="35.02" fill="#00ff00"/><rect x="430.49" y="85.40" width="8.24" height="2.74" fill="#ff0000"/><rect x="438.73" y="117.32" width="8.24" height="13.68" fill="#ffff00"/><rect x="438.73" y="115.13" width="8.24" height="2.19" fill="#0000ff"/><rect x="438.73" y="87.59" width="8.24" height="27.54" fill="#00ff00"/><rect x="438.73" y="85.40" width="8.24" height="2.19" fill="#ff0000"/><rect x="446.96" y="106.38" width="8.24" height="24.62" fill="#ffff00"/><rect x="446.96" y="101.45" width="8.24" height="4.92" fill="#0000ff"/><rect x="446.96" y="90.51" width="8.24" height="10.94" fill="#00ff00"/><rect x="446.96" y="85.40" width="8.24" height="5.11" fill="#ff0000"/></g>
<line x1="43.1" y1="131.30" x2="462.0" y2="131.30" stroke="#999" stroke-width="0.6"/>
<line x1="43.1" y1="85.40" x2="43.1" y2="131.30" stroke="#777" stroke-width="0.5"/>
<line x1="41.3" y1="131.00" x2="43.1" y2="131.00" stroke="#666" stroke-width="0.45"/><text x="39.6" y="132.40" font-size="3.9" text-anchor="end" fill="#3a3a3a">0.00</text><line x1="41.3" y1="121.88" x2="43.1" y2="121.88" stroke="#666" stroke-width="0.45"/><text x="39.6" y="123.28" font-size="3.9" text-anchor="end" fill="#3a3a3a">0.20</text><line x1="41.3" y1="112.76" x2="43.1" y2="112.76" stroke="#666" stroke-width="0.45"/><text x="39.6" y="114.16" font-size="3.9" text-anchor="end" fill="#3a3a3a">0.40</text><line x1="41.3" y1="103.64" x2="43.1" y2="103.64" stroke="#666" stroke-width="0.45"/><text x="39.6" y="105.04" font-size="3.9" text-anchor="end" fill="#3a3a3a">0.60</text><line x1="41.3" y1="94.52" x2="43.1" y2="94.52" stroke="#666" stroke-width="0.45"/><text x="39.6" y="95.92" font-size="3.9" text-anchor="end" fill="#3a3a3a">0.80</text><line x1="41.3" y1="85.40" x2="43.1" y2="85.40" stroke="#666" stroke-width="0.45"/><text x="39.6" y="86.80" font-size="3.9" text-anchor="end" fill="#3a3a3a">1.00</text>
<line x1="47.52" y1="131.30" x2="47.52" y2="132.80" stroke="#777" stroke-width="0.4"/><text x="47.52" y="136.60" font-size="3.9" text-anchor="middle" fill="#3a3a3a">51(2)</text><line x1="55.75" y1="131.30" x2="55.75" y2="132.80" stroke="#777" stroke-width="0.4"/><text x="55.75" y="141.30" font-size="3.9" text-anchor="middle" fill="#3a3a3a">52(2)</text><line x1="63.99" y1="131.30" x2="63.99" y2="132.80" stroke="#777" stroke-width="0.4"/><text x="63.99" y="136.60" font-size="3.9" text-anchor="middle" fill="#3a3a3a">53(2)</text><line x1="72.23" y1="131.30" x2="72.23" y2="132.80" stroke="#777" stroke-width="0.4"/><text x="72.23" y="141.30" font-size="3.9" text-anchor="middle" fill="#3a3a3a">54(2)</text><line x1="80.46" y1="131.30" x2="80.46" y2="132.80" stroke="#777" stroke-width="0.4"/><text x="80.46" y="136.60" font-size="3.9" text-anchor="middle" fill="#3a3a3a">55(2)</text><line x1="88.70" y1="131.30" x2="88.70" y2="132.80" stroke="#777" stroke-width="0.4"/><text x="88.70" y="141.30" font-size="3.9" text-anchor="middle" fill="#3a3a3a">56(2)</text><line x1="96.93" y1="131.30" x2="96.93" y2="132.80" stroke="#777" stroke-width="0.4"/><text x="96.93" y="136.60" font-size="3.9" text-anchor="middle" fill="#3a3a3a">57(2)</text><line x1="105.17" y1="131.30" x2="105.17" y2="132.80" stroke="#777" stroke-width="0.4"/><text x="105.17" y="141.30" font-size="3.9" text-anchor="middle" fill="#3a3a3a">58(2)</text><line x1="113.41" y1="131.30" x2="113.41" y2="132.80" stroke="#777" stroke-width="0.4"/><text x="113.41" y="136.60" font-size="3.9" text-anchor="middle" fill="#3a3a3a">59(2)</text><line x1="121.64" y1="131.30" x2="121.64" y2="132.80" stroke="#777" stroke-width="0.4"/><text x="121.64" y="141.30" font-size="3.9" text-anchor="middle" fill="#3a3a3a">60(2)</text><line x1="129.88" y1="131.30" x2="129.88" y2="132.80" stroke="#777" stroke-width="0.4"/><text x="129.88" y="136.60" font-size="3.9" text-anchor="middle" fill="#3a3a3a">61(2)</text><line x1="138.11" y1="131.30" x2="138.11" y2="132.80" stroke="#777" stroke-width="0.4"/><text x="138.11" y="141.30" font-size="3.9" text-anchor="middle" fill="#3a3a3a">62(2)</text><line x1="146.35" y1="131.30" x2="146.35" y2="132.80" stroke="#777" stroke-width="0.4"/><text x="146.35" y="136.60" font-size="3.9" text-anchor="middle" fill="#3a3a3a">63(2)</text><line x1="154.59" y1="131.30" x2="154.59" y2="132.80" stroke="#777" stroke-width="0.4"/><text x="154.59" y="141.30" font-size="3.9" text-anchor="middle" fill="#3a3a3a">64(2)</text><line x1="162.82" y1="131.30" x2="162.82" y2="132.80" stroke="#777" stroke-width="0.4"/><text x="162.82" y="136.60" font-size="3.9" text-anchor="middle" fill="#3a3a3a">65(2)</text><line x1="171.06" y1="131.30" x2="171.06" y2="132.80" stroke="#777" stroke-width="0.4"/><text x="171.06" y="141.30" font-size="3.9" text-anchor="middle" fill="#3a3a3a">66(2)</text><line x1="179.29" y1="131.30" x2="179.29" y2="132.80" stroke="#777" stroke-width="0.4"/><text x="179.29" y="136.60" font-size="3.9" text-anchor="middle" fill="#3a3a3a">67(2)</text><line x1="187.53" y1="131.30" x2="187.53" y2="132.80" stroke="#777" stroke-width="0.4"/><text x="187.53" y="141.30" font-size="3.9" text-anchor="middle" fill="#3a3a3a">68(3)</text><line x1="195.77" y1="131.30" x2="195.77" y2="132.80" stroke="#777" stroke-width="0.4"/><text x="195.77" y="136.60" font-size="3.9" text-anchor="middle" fill="#3a3a3a">69(3)</text><line x1="204.00" y1="131.30" x2="204.00" y2="132.80" stroke="#777" stroke-width="0.4"/><text x="204.00" y="141.30" font-size="3.9" text-anchor="middle" fill="#3a3a3a">70(3)</text><line x1="212.24" y1="131.30" x2="212.24" y2="132.80" stroke="#777" stroke-width="0.4"/><text x="212.24" y="136.60" font-size="3.9" text-anchor="middle" fill="#3a3a3a">71(3)</text><line x1="220.47" y1="131.30" x2="220.47" y2="132.80" stroke="#777" stroke-width="0.4"/><text x="220.47" y="141.30" font-size="3.9" text-anchor="middle" fill="#3a3a3a">72(3)</text><line x1="228.71" y1="131.30" x2="228.71" y2="132.80" stroke="#777" stroke-width="0.4"/><text x="228.71" y="136.60" font-size="3.9" text-anchor="middle" fill="#3a3a3a">73(3)</text><line x1="236.95" y1="131.30" x2="236.95" y2="132.80" stroke="#777" stroke-width="0.4"/><text x="236.95" y="141.30" font-size="3.9" text-anchor="middle" fill="#3a3a3a">74(3)</text><line x1="245.18" y1="131.30" x2="245.18" y2="132.80" stroke="#777" stroke-width="0.4"/><text x="245.18" y="136.60" font-size="3.9" text-anchor="middle" fill="#3a3a3a">75(3)</text><line x1="253.42" y1="131.30" x2="253.42" y2="132.80" stroke="#777" stroke-width="0.4"/><text x="253.42" y="141.30" font-size="3.9" text-anchor="middle" fill="#3a3a3a">76(3)</text><line x1="261.65" y1="131.30" x2="261.65" y2="132.80" stroke="#777" stroke-width="0.4"/><text x="261.65" y="136.60" font-size="3.9" text-anchor="middle" fill="#3a3a3a">77(3)</text><line x1="269.89" y1="131.30" x2="269.89" y2="132.80" stroke="#777" stroke-width="0.4"/><text x="269.89" y="141.30" font-size="3.9" text-anchor="middle" fill="#3a3a3a">78(3)</text><line x1="278.13" y1="131.30" x2="278.13" y2="132.80" stroke="#777" stroke-width="0.4"/><text x="278.13" y="136.60" font-size="3.9" text-anchor="middle" fill="#3a3a3a">79(3)</text><line x1="286.36" y1="131.30" x2="286.36" y2="132.80" stroke="#777" stroke-width="0.4"/><text x="286.36" y="141.30" font-size="3.9" text-anchor="middle" fill="#3a3a3a">80(3)</text><line x1="294.60" y1="131.30" x2="294.60" y2="132.80" stroke="#777" stroke-width="0.4"/><text x="294.60" y="136.60" font-size="3.9" text-anchor="middle" fill="#3a3a3a">81(3)</text><line x1="302.83" y1="131.30" x2="302.83" y2="132.80" stroke="#777" stroke-width="0.4"/><text x="302.83" y="141.30" font-size="3.9" text-anchor="middle" fill="#3a3a3a">82(3)</text><line x1="311.07" y1="131.30" x2="311.07" y2="132.80" stroke="#777" stroke-width="0.4"/><text x="311.07" y="136.60" font-size="3.9" text-anchor="middle" fill="#3a3a3a">83(3)</text><line x1="319.31" y1="131.30" x2="319.31" y2="132.80" stroke="#777" stroke-width="0.4"/><text x="319.31" y="141.30" font-size="3.9" text-anchor="middle" fill="#3a3a3a">84(3)</text><line x1="327.54" y1="131.30" x2="327.54" y2="132.80" stroke="#777" stroke-width="0.4"/><text x="327.54" y="136.60" font-size="3.9" text-anchor="middle" fill="#3a3a3a">85(3)</text><line x1="335.78" y1="131.30" x2="335.78" y2="132.80" stroke="#777" stroke-width="0.4"/><text x="335.78" y="141.30" font-size="3.9" text-anchor="middle" fill="#3a3a3a">86(3)</text><line x1="344.01" y1="131.30" x2="344.01" y2="132.80" stroke="#777" stroke-width="0.4"/><text x="344.01" y="136.60" font-size="3.9" text-anchor="middle" fill="#3a3a3a">87(3)</text><line x1="352.25" y1="131.30" x2="352.25" y2="132.80" stroke="#777" stroke-width="0.4"/><text x="352.25" y="141.30" font-size="3.9" text-anchor="middle" fill="#3a3a3a">88(3)</text><line x1="360.49" y1="131.30" x2="360.49" y2="132.80" stroke="#777" stroke-width="0.4"/><text x="360.49" y="136.60" font-size="3.9" text-anchor="middle" fill="#3a3a3a">89(3)</text><line x1="368.72" y1="131.30" x2="368.72" y2="132.80" stroke="#777" stroke-width="0.4"/><text x="368.72" y="141.30" font-size="3.9" text-anchor="middle" fill="#3a3a3a">90(3)</text><line x1="376.96" y1="131.30" x2="376.96" y2="132.80" stroke="#777" stroke-width="0.4"/><text x="376.96" y="136.60" font-size="3.9" text-anchor="middle" fill="#3a3a3a">91(3)</text><line x1="385.19" y1="131.30" x2="385.19" y2="132.80" stroke="#777" stroke-width="0.4"/><text x="385.19" y="141.30" font-size="3.9" text-anchor="middle" fill="#3a3a3a">92(4)</text><line x1="393.43" y1="131.30" x2="393.43" y2="132.80" stroke="#777" stroke-width="0.4"/><text x="393.43" y="136.60" font-size="3.9" text-anchor="middle" fill="#3a3a3a">93(4)</text><line x1="401.67" y1="131.30" x2="401.67" y2="132.80" stroke="#777" stroke-width="0.4"/><text x="401.67" y="141.30" font-size="3.9" text-anchor="middle" fill="#3a3a3a">94(4)</text><line x1="409.90" y1="131.30" x2="409.90" y2="132.80" stroke="#777" stroke-width="0.4"/><text x="409.90" y="136.60" font-size="3.9" text-anchor="middle" fill="#3a3a3a">95(4)</text><line x1="418.14" y1="131.30" x2="418.14" y2="132.80" stroke="#777" stroke-width="0.4"/><text x="418.14" y="141.30" font-size="3.9" text-anchor="middle" fill="#3a3a3a">96(4)</text><line x1="426.37" y1="131.30" x2="426.37" y2="132.80" stroke="#777" stroke-width="0.4"/><text x="426.37" y="136.60" font-size="3.9" text-anchor="middle" fill="#3a3a3a">97(4)</text><line x1="434.61" y1="131.30" x2="434.61" y2="132.80" stroke="#777" stroke-width="0.4"/><text x="434.61" y="141.30" font-size="3.9" text-anchor="middle" fill="#3a3a3a">98(4)</text><line x1="442.85" y1="131.30" x2="442.85" y2="132.80" stroke="#777" stroke-width="0.4"/><text x="442.85" y="136.60" font-size="3.9" text-anchor="middle" fill="#3a3a3a">99(4)</text><line x1="451.08" y1="131.30" x2="451.08" y2="132.80" stroke="#777" stroke-width="0.4"/><text x="451.08" y="141.30" font-size="3.9" text-anchor="middle" fill="#3a3a3a">100(4)</text>
<g stroke="#000" stroke-opacity="0.45" stroke-width="0.35"><rect x="43.40" y="195.32" width="8.24" height="1.28" fill="#ffff00"/><rect x="43.40" y="173.98" width="8.24" height="21.34" fill="#0000ff"/><rect x="43.40" y="160.30" width="8.24" height="13.68" fill="#00ff00"/><rect x="43.40" y="151.00" width="8.24" height="9.30" fill="#ff0000"/><rect x="51.64" y="182.56" width="8.24" height="14.04" fill="#ffff00"/><rect x="51.64" y="177.08" width="8.24" height="5.47" fill="#0000ff"/><rect x="51.64" y="157.02" width="8.24" height="20.06" fill="#00ff00"/><rect x="51.64" y="151.00" width="8.24" height="6.02" fill="#ff0000"/><rect x="59.87" y="186.57" width="8.24" height="10.03" fill="#ffff00"/><rect x="59.87" y="178.00" width="8.24" height="8.57" fill="#0000ff"/><rect x="59.87" y="157.38" width="8.24" height="20.61" fill="#00ff00"/><rect x="59.87" y="151.00" width="8.24" height="6.38" fill="#ff0000"/><rect x="68.11" y="178.54" width="8.24" height="18.06" fill="#ffff00"/><rect x="68.11" y="172.16" width="8.24" height="6.38" fill="#0000ff"/><rect x="68.11" y="156.11" width="8.24" height="16.05" fill="#00ff00"/><rect x="68.11" y="151.00" width="8.24" height="5.11" fill="#ff0000"/><rect x="76.34" y="188.94" width="8.24" height="7.66" fill="#ffff00"/><rect x="76.34" y="176.17" width="8.24" height="12.77" fill="#0000ff"/><rect x="76.34" y="163.95" width="8.24" height="12.22" fill="#00ff00"/><rect x="76.34" y="151.00" width="8.24" height="12.95" fill="#ff0000"/><rect x="84.58" y="192.95" width="8.24" height="3.65" fill="#ffff00"/><rect x="84.58" y="190.40" width="8.24" height="2.55" fill="#0000ff"/><rect x="84.58" y="153.37" width="8.24" height="37.03" fill="#00ff00"/><rect x="84.58" y="151.00" width="8.24" height="2.37" fill="#ff0000"/><rect x="92.82" y="187.12" width="8.24" height="9.48" fill="#ffff00"/><rect x="92.82" y="169.79" width="8.24" height="17.33" fill="#0000ff"/><rect x="92.82" y="162.86" width="8.24" height="6.93" fill="#00ff00"/><rect x="92.82" y="151.00" width="8.24" height="11.86" fill="#ff0000"/><rect x="101.05" y="191.68" width="8.24" height="4.92" fill="#ffff00"/><rect x="101.05" y="182.56" width="8.24" height="9.12" fill="#0000ff"/><rect x="101.05" y="156.65" width="8.24" height="25.90" fill="#00ff00"/><rect x="101.05" y="151.00" width="8.24" height="5.65" fill="#ff0000"/><rect x="109.29" y="187.12" width="8.24" height="9.48" fill="#ffff00"/><rect x="109.29" y="176.17" width="8.24" height="10.94" fill="#0000ff"/><rect x="109.29" y="160.12" width="8.24" height="16.05" fill="#00ff00"/><rect x="109.29" y="151.00" width="8.24" height="9.12" fill="#ff0000"/><rect x="117.52" y="184.74" width="8.24" height="11.86" fill="#ffff00"/><rect x="117.52" y="182.19" width="8.24" height="2.55" fill="#0000ff"/><rect x="117.52" y="153.74" width="8.24" height="28.45" fill="#00ff00"/><rect x="117.52" y="151.00" width="8.24" height="2.74" fill="#ff0000"/><rect x="125.76" y="189.85" width="8.24" height="6.75" fill="#ffff00"/><rect x="125.76" y="177.63" width="8.24" height="12.22" fill="#0000ff"/><rect x="125.76" y="163.04" width="8.24" height="14.59" fill="#00ff00"/><rect x="125.76" y="151.00" width="8.24" height="12.04" fill="#ff0000"/><rect x="134.00" y="178.91" width="8.24" height="17.69" fill="#ffff00"/><rect x="134.00" y="175.26" width="8.24" height="3.65" fill="#0000ff"/><rect x="134.00" y="155.20" width="8.24" height="20.06" fill="#00ff00"/><rect x="134.00" y="151.00" width="8.24" height="4.20" fill="#ff0000"/><rect x="142.23" y="182.56" width="8.24" height="14.04" fill="#ffff00"/><rect x="142.23" y="180.18" width="8.24" height="2.37" fill="#0000ff"/><rect x="142.23" y="153.92" width="8.24" height="26.27" fill="#00ff00"/><rect x="142.23" y="151.00" width="8.24" height="2.92" fill="#ff0000"/><rect x="150.47" y="184.93" width="8.24" height="11.67" fill="#ffff00"/><rect x="150.47" y="182.19" width="8.24" height="2.74" fill="#0000ff"/><rect x="150.47" y="154.65" width="8.24" height="27.54" fill="#00ff00"/><rect x="150.47" y="151.00" width="8.24" height="3.65" fill="#ff0000"/><rect x="158.70" y="194.41" width="8.24" height="2.19" fill="#ffff00"/><rect x="158.70" y="181.64" width="8.24" height="12.77" fill="#0000ff"/><rect x="158.70" y="158.84" width="8.24" height="22.80" fill="#00ff00"/><rect x="158.70" y="151.00" width="8.24" height="7.84" fill="#ff0000"/><rect x="166.94" y="157.93" width="8.24" height="38.67" fill="#ffff00"/><rect x="166.94" y="156.11" width="8.24" height="1.82" fill="#0000ff"/><rect x="166.94" y="153.74" width="8.24" height="2.37" fill="#00ff00"/><rect x="166.94" y="151.00" width="8.24" height="2.74" fill="#ff0000"/><rect x="175.18" y="157.57" width="8.24" height="39.03" fill="#ffff00"/><rect x="175.18" y="155.20" width="8.24" height="2.37" fill="#0000ff"/><rect x="175.18" y="153.37" width="8.24" height="1.82" fill="#00ff00"/><rect x="175.18" y="151.00" width="8.24" height="2.37" fill="#ff0000"/><rect x="183.41" y="172.16" width="8.24" height="24.44" fill="#ffff00"/><rect x="183.41" y="167.60" width="8.24" height="4.56" fill="#0000ff"/><rect x="183.41" y="156.11" width="8.24" height="11.49" fill="#00ff00"/><rect x="183.41" y="151.00" width="8.24" height="5.11" fill="#ff0000"/><rect x="191.65" y="186.57" width="8.24" height="10.03" fill="#ffff00"/><rect x="191.65" y="173.07" width="8.24" height="13.50" fill="#0000ff"/><rect x="191.65" y="162.49" width="8.24" height="10.58" fill="#00ff00"/><rect x="191.65" y="151.00" width="8.24" height="11.49" fill="#ff0000"/><rect x="199.88" y="168.33" width="8.24" height="28.27" fill="#ffff00"/><rect x="199.88" y="163.40" width="8.24" height="4.92" fill="#0000ff"/><rect x="199.88" y="159.76" width="8.24" height="3.65" fill="#00ff00"/><rect x="199.88" y="151.00" width="8.24" height="8.76" fill="#ff0000"/><rect x="208.12" y="161.94" width="8.24" height="34.66" fill="#ffff00"/><rect x="208.12" y="159.21" width="8.24" height="2.74" fill="#0000ff"/><rect x="208.12" y="153.74" width="8.24" height="5.47" fill="#00ff00"/><rect x="208.12" y="151.00" width="8.24" height="2.74" fill="#ff0000"/><rect x="216.36" y="161.94" width="8.24" height="34.66" fill="#ffff00"/><rect x="216.36" y="158.84" width="8.24" height="3.10" fill="#0000ff"/><rect x="216.36" y="154.28" width="8.24" height="4.56" fill="#00ff00"/><rect x="216.36" y="151.00" width="8.24" height="3.28" fill="#ff0000"/><rect x="224.59" y="163.77" width="8.24" height="32.83" fill="#ffff00"/><rect x="224.59" y="159.76" width="8.24" height="4.01" fill="#0000ff"/><rect x="224.59" y="155.56" width="8.24" height="4.20" fill="#00ff00"/><rect x="224.59" y="151.00" width="8.24" height="4.56" fill="#ff0000"/><rect x="232.83" y="187.48" width="8.24" height="9.12" fill="#ffff00"/><rect x="232.83" y="181.28" width="8.24" height="6.20" fill="#0000ff"/><rect x="232.83" y="156.65" width="8.24" height="24.62" fill="#00ff00"/><rect x="232.83" y="151.00" width="8.24" height="5.65" fill="#ff0000"/><rect x="241.06" y="173.98" width="8.24" height="22.62" fill="#ffff00"/><rect x="241.06" y="166.14" width="8.24" height="7.84" fill="#0000ff"/><rect x="241.06" y="162.13" width="8.24" height="4.01" fill="#00ff00"/><rect x="241.06" y="151.00" width="8.24" height="11.13" fill="#ff0000"/><rect x="249.30" y="160.67" width="8.24" height="35.93" fill="#ffff00"/><rect x="249.30" y="157.93" width="8.24" height="2.74" fill="#0000ff"/><rect x="249.30" y="154.65" width="8.24" height="3.28" fill="#00ff00"/><rect x="249.30" y="151.00" width="8.24" height="3.65" fill="#ff0000"/><rect x="257.54" y="174.35" width="8.24" height="22.25" fill="#ffff00"/><rect x="257.54" y="168.88" width="8.24" height="5.47" fill="#0000ff"/><rect x="257.54" y="156.47" width="8.24" height="12.40" fill="#00ff00"/><rect x="257.54" y="151.00" width="8.24" height="5.47" fill="#ff0000"/><rect x="265.77" y="178.91" width="8.24" height="17.69" fill="#ffff00"/><rect x="265.77" y="172.89" width="8.24" height="6.02" fill="#0000ff"/><rect x="265.77" y="157.93" width="8.24" height="14.96" fill="#00ff00"/><rect x="265.77" y="151.00" width="8.24" height="6.93" fill="#ff0000"/><rect x="274.01" y="166.14" width="8.24" height="30.46" fill="#ffff00"/><rect x="274.01" y="161.03" width="8.24" height="5.11" fill="#0000ff"/><rect x="274.01" y="157.38" width="8.24" height="3.65" fill="#00ff00"/><rect x="274.01" y="151.00" width="8.24" height="6.38" fill="#ff0000"/><rect x="282.24" y="182.56" width="8.24" height="14.04" fill="#ffff00"/><rect x="282.24" y="180.18" width="8.24" height="2.37" fill="#0000ff"/><rect x="282.24" y="153.74" width="8.24" height="26.45" fill="#00ff00"/><rect x="282.24" y="151.00" width="8.24" height="2.74" fill="#ff0000"/><rect x="290.48" y="193.86" width="8.24" height="2.74" fill="#ffff00"/><rect x="290.48" y="181.64" width="8.24" height="12.22" fill="#0000ff"/><rect x="290.48" y="158.84" width="8.24" height="22.80" fill="#00ff00"/><rect x="290.48" y="151.00" width="8.24" height="7.84" fill="#ff0000"/><rect x="298.72" y="188.94" width="8.24" height="7.66" fill="#ffff00"/><rect x="298.72" y="179.82" width="8.24" height="9.12" fill="#0000ff"/><rect x="298.72" y="159.21" width="8.24" height="20.61" fill="#00ff00"/><rect x="298.72" y="151.00" width="8.24" height="8.21" fill="#ff0000"/><rect x="306.95" y="194.41" width="8.24" height="2.19" fill="#ffff00"/><rect x="306.95" y="183.47" width="8.24" height="10.94" fill="#0000ff"/><rect x="306.95" y="167.05" width="8.24" height="16.42" fill="#00ff00"/><rect x="306.95" y="151.00" width="8.24" height="16.05" fill="#ff0000"/><rect x="315.19" y="167.60" width="8.24" height="29.00" fill="#ffff00"/><rect x="315.19" y="162.49" width="8.24" height="5.11" fill="#0000ff"/><rect x="315.19" y="158.48" width="8.24" height="4.01" fill="#00ff00"/><rect x="315.19" y="151.00" width="8.24" height="7.48" fill="#ff0000"/><rect x="323.42" y="182.19" width="8.24" height="14.41" fill="#ffff00"/><rect x="323.42" y="173.44" width="8.24" height="8.76" fill="#0000ff"/><rect x="323.42" y="162.49" width="8.24" height="10.94" fill="#00ff00"/><rect x="323.42" y="151.00" width="8.24" height="11.49" fill="#ff0000"/><rect x="331.66" y="172.89" width="8.24" height="23.71" fill="#ffff00"/><rect x="331.66" y="167.60" width="8.24" height="5.29" fill="#0000ff"/><rect x="331.66" y="159.21" width="8.24" height="8.39" fill="#00ff00"/><rect x="331.66" y="151.00" width="8.24" height="8.21" fill="#ff0000"/><rect x="339.90" y="178.00" width="8.24" height="18.60" fill="#ffff00"/><rect x="339.90" y="170.70" width="8.24" height="7.30" fill="#0000ff"/><rect x="339.90" y="167.96" width="8.24" height="2.74" fill="#00ff00"/><rect x="339.90" y="151.00" width="8.24" height="16.96" fill="#ff0000"/><rect x="348.13" y="184.38" width="8.24" height="12.22" fill="#ffff00"/><rect x="348.13" y="178.00" width="8.24" height="6.38" fill="#0000ff"/><rect x="348.13" y="157.02" width="8.24" height="20.98" fill="#00ff00"/><rect x="348.13" y="151.00" width="8.24" height="6.02" fill="#ff0000"/><rect x="356.37" y="167.96" width="8.24" height="28.64" fill="#ffff00"/><rect x="356.37" y="164.32" width="8.24" height="3.65" fill="#0000ff"/><rect x="356.37" y="157.93" width="8.24" height="6.38" fill="#00ff00"/><rect x="356.37" y="151.00" width="8.24" height="6.93" fill="#ff0000"/><rect x="364.60" y="164.86" width="8.24" height="31.74" fill="#ffff00"/><rect x="364.60" y="160.30" width="8.24" height="4.56" fill="#0000ff"/><rect x="364.60" y="156.65" width="8.24" height="3.65" fill="#00ff00"/><rect x="364.60" y="151.00" width="8.24" height="5.65" fill="#ff0000"/><rect x="372.84" y="185.84" width="8.24" height="10.76" fill="#ffff00"/><rect x="372.84" y="182.56" width="8.24" height="3.28" fill="#0000ff"/><rect x="372.84" y="154.28" width="8.24" height="28.27" fill="#00ff00"/><rect x="372.84" y="151.00" width="8.24" height="3.28" fill="#ff0000"/><rect x="381.08" y="158.84" width="8.24" height="37.76" fill="#ffff00"/><rect x="381.08" y="157.02" width="8.24" height="1.82" fill="#0000ff"/><rect x="381.08" y="153.37" width="8.24" height="3.65" fill="#00ff00"/><rect x="381.08" y="151.00" width="8.24" height="2.37" fill="#ff0000"/><rect x="389.31" y="159.21" width="8.24" height="37.39" fill="#ffff00"/><rect x="389.31" y="157.02" width="8.24" height="2.19" fill="#0000ff"/><rect x="389.31" y="153.74" width="8.24" height="3.28" fill="#00ff00"/><rect x="389.31" y="151.00" width="8.24" height="2.74" fill="#ff0000"/><rect x="397.55" y="173.44" width="8.24" height="23.16" fill="#ffff00"/><rect x="397.55" y="166.50" width="8.24" height="6.93" fill="#0000ff"/><rect x="397.55" y="157.38" width="8.24" height="9.12" fill="#00ff00"/><rect x="397.55" y="151.00" width="8.24" height="6.38" fill="#ff0000"/><rect x="405.78" y="191.68" width="8.24" height="4.92" fill="#ffff00"/><rect x="405.78" y="180.18" width="8.24" height="11.49" fill="#0000ff"/><rect x="405.78" y="167.96" width="8.24" height="12.22" fill="#00ff00"/><rect x="405.78" y="151.00" width="8.24" height="16.96" fill="#ff0000"/><rect x="414.02" y="176.17" width="8.24" height="20.43" fill="#ffff00"/><rect x="414.02" y="166.14" width="8.24" height="10.03" fill="#0000ff"/><rect x="414.02" y="162.13" width="8.24" height="4.01" fill="#00ff00"/><rect x="414.02" y="151.00" width="8.24" height="11.13" fill="#ff0000"/><rect x="422.26" y="164.86" width="8.24" height="31.74" fill="#ffff00"/><rect x="422.26" y="162.13" width="8.24" height="2.74" fill="#0000ff"/><rect x="422.26" y="155.20" width="8.24" height="6.93" fill="#00ff00"/><rect x="422.26" y="151.00" width="8.24" height="4.20" fill="#ff0000"/><rect x="430.49" y="166.14" width="8.24" height="30.46" fill="#ffff00"/><rect x="430.49" y="159.76" width="8.24" height="6.38" fill="#0000ff"/><rect x="430.49" y="157.02" width="8.24" height="2.74" fill="#00ff00"/><rect x="430.49" y="151.00" width="8.24" height="6.02" fill="#ff0000"/><rect x="438.73" y="162.13" width="8.24" height="34.47" fill="#ffff00"/><rect x="438.73" y="158.30" width="8.24" height="3.83" fill="#0000ff"/><rect x="438.73" y="154.83" width="8.24" height="3.47" fill="#00ff00"/><rect x="438.73" y="151.00" width="8.24" height="3.83" fill="#ff0000"/><rect x="446.96" y="165.77" width="8.24" height="30.83" fill="#ffff00"/><rect x="446.96" y="162.49" width="8.24" height="3.28" fill="#0000ff"/><rect x="446.96" y="155.20" width="8.24" height="7.30" fill="#00ff00"/><rect x="446.96" y="151.00" width="8.24" height="4.20" fill="#ff0000"/></g>
<line x1="43.1" y1="196.90" x2="462.0" y2="196.90" stroke="#999" stroke-width="0.6"/>
<line x1="43.1" y1="151.00" x2="43.1" y2="196.90" stroke="#777" stroke-width="0.5"/>
<line x1="41.3" y1="196.60" x2="43.1" y2="196.60" stroke="#666" stroke-width="0.45"/><text x="39.6" y="198.00" font-size="3.9" text-anchor="end" fill="#3a3a3a">0.00</text><line x1="41.3" y1="187.48" x2="43.1" y2="187.48" stroke="#666" stroke-width="0.45"/><text x="39.6" y="188.88" font-size="3.9" text-anchor="end" fill="#3a3a3a">0.20</text><line x1="41.3" y1="178.36" x2="43.1" y2="178.36" stroke="#666" stroke-width="0.45"/><text x="39.6" y="179.76" font-size="3.9" text-anchor="end" fill="#3a3a3a">0.40</text><line x1="41.3" y1="169.24" x2="43.1" y2="169.24" stroke="#666" stroke-width="0.45"/><text x="39.6" y="170.64" font-size="3.9" text-anchor="end" fill="#3a3a3a">0.60</text><line x1="41.3" y1="160.12" x2="43.1" y2="160.12" stroke="#666" stroke-width="0.45"/><text x="39.6" y="161.52" font-size="3.9" text-anchor="end" fill="#3a3a3a">0.80</text><line x1="41.3" y1="151.00" x2="43.1" y2="151.00" stroke="#666" stroke-width="0.45"/><text x="39.6" y="152.40" font-size="3.9" text-anchor="end" fill="#3a3a3a">1.00</text>
<line x1="47.52" y1="196.90" x2="47.52" y2="198.40" stroke="#777" stroke-width="0.4"/><text x="47.52" y="202.20" font-size="3.9" text-anchor="middle" fill="#3a3a3a">101(4)</text><line x1="55.75" y1="196.90" x2="55.75" y2="198.40" stroke="#777" stroke-width="0.4"/><text x="55.75" y="206.90" font-size="3.9" text-anchor="middle" fill="#3a3a3a">102(4)</text><line x1="63.99" y1="196.90" x2="63.99" y2="198.40" stroke="#777" stroke-width="0.4"/><text x="63.99" y="202.20" font-size="3.9" text-anchor="middle" fill="#3a3a3a">103(4)</text><line x1="72.23" y1="196.90" x2="72.23" y2="198.40" stroke="#777" stroke-width="0.4"/><text x="72.23" y="206.90" font-size="3.9" text-anchor="middle" fill="#3a3a3a">104(4)</text><line x1="80.46" y1="196.90" x2="80.46" y2="198.40" stroke="#777" stroke-width="0.4"/><text x="80.46" y="202.20" font-size="3.9" text-anchor="middle" fill="#3a3a3a">105(4)</text><line x1="88.70" y1="196.90" x2="88.70" y2="198.40" stroke="#777" stroke-width="0.4"/><text x="88.70" y="206.90" font-size="3.9" text-anchor="middle" fill="#3a3a3a">106(4)</text><line x1="96.93" y1="196.90" x2="96.93" y2="198.40" stroke="#777" stroke-width="0.4"/><text x="96.93" y="202.20" font-size="3.9" text-anchor="middle" fill="#3a3a3a">107(4)</text><line x1="105.17" y1="196.90" x2="105.17" y2="198.40" stroke="#777" stroke-width="0.4"/><text x="105.17" y="206.90" font-size="3.9" text-anchor="middle" fill="#3a3a3a">108(4)</text><line x1="113.41" y1="196.90" x2="113.41" y2="198.40" stroke="#777" stroke-width="0.4"/><text x="113.41" y="202.20" font-size="3.9" text-anchor="middle" fill="#3a3a3a">109(4)</text><line x1="121.64" y1="196.90" x2="121.64" y2="198.40" stroke="#777" stroke-width="0.4"/><text x="121.64" y="206.90" font-size="3.9" text-anchor="middle" fill="#3a3a3a">110(4)</text><line x1="129.88" y1="196.90" x2="129.88" y2="198.40" stroke="#777" stroke-width="0.4"/><text x="129.88" y="202.20" font-size="3.9" text-anchor="middle" fill="#3a3a3a">111(4)</text><line x1="138.11" y1="196.90" x2="138.11" y2="198.40" stroke="#777" stroke-width="0.4"/><text x="138.11" y="206.90" font-size="3.9" text-anchor="middle" fill="#3a3a3a">112(4)</text><line x1="146.35" y1="196.90" x2="146.35" y2="198.40" stroke="#777" stroke-width="0.4"/><text x="146.35" y="202.20" font-size="3.9" text-anchor="middle" fill="#3a3a3a">113(4)</text><line x1="154.59" y1="196.90" x2="154.59" y2="198.40" stroke="#777" stroke-width="0.4"/><text x="154.59" y="206.90" font-size="3.9" text-anchor="middle" fill="#3a3a3a">114(4)</text><line x1="162.82" y1="196.90" x2="162.82" y2="198.40" stroke="#777" stroke-width="0.4"/><text x="162.82" y="202.20" font-size="3.9" text-anchor="middle" fill="#3a3a3a">115(4)</text><line x1="171.06" y1="196.90" x2="171.06" y2="198.40" stroke="#777" stroke-width="0.4"/><text x="171.06" y="206.90" font-size="3.9" text-anchor="middle" fill="#3a3a3a">116(5)</text><line x1="179.29" y1="196.90" x2="179.29" y2="198.40" stroke="#777" stroke-width="0.4"/><text x="179.29" y="202.20" font-size="3.9" text-anchor="middle" fill="#3a3a3a">117(5)</text><line x1="187.53" y1="196.90" x2="187.53" y2="198.40" stroke="#777" stroke-width="0.4"/><text x="187.53" y="206.90" font-size="3.9" text-anchor="middle" fill="#3a3a3a">118(5)</text><line x1="195.77" y1="196.90" x2="195.77" y2="198.40" stroke="#777" stroke-width="0.4"/><text x="195.77" y="202.20" font-size="3.9" text-anchor="middle" fill="#3a3a3a">119(5)</text><line x1="204.00" y1="196.90" x2="204.00" y2="198.40" stroke="#777" stroke-width="0.4"/><text x="204.00" y="206.90" font-size="3.9" text-anchor="middle" fill="#3a3a3a">120(5)</text><line x1="212.24" y1="196.90" x2="212.24" y2="198.40" stroke="#777" stroke-width="0.4"/><text x="212.24" y="202.20" font-size="3.9" text-anchor="middle" fill="#3a3a3a">121(5)</text><line x1="220.47" y1="196.90" x2="220.47" y2="198.40" stroke="#777" stroke-width="0.4"/><text x="220.47" y="206.90" font-size="3.9" text-anchor="middle" fill="#3a3a3a">122(5)</text><line x1="228.71" y1="196.90" x2="228.71" y2="198.40" stroke="#777" stroke-width="0.4"/><text x="228.71" y="202.20" font-size="3.9" text-anchor="middle" fill="#3a3a3a">123(5)</text><line x1="236.95" y1="196.90" x2="236.95" y2="198.40" stroke="#777" stroke-width="0.4"/><text x="236.95" y="206.90" font-size="3.9" text-anchor="middle" fill="#3a3a3a">124(5)</text><line x1="245.18" y1="196.90" x2="245.18" y2="198.40" stroke="#777" stroke-width="0.4"/><text x="245.18" y="202.20" font-size="3.9" text-anchor="middle" fill="#3a3a3a">125(5)</text><line x1="253.42" y1="196.90" x2="253.42" y2="198.40" stroke="#777" stroke-width="0.4"/><text x="253.42" y="206.90" font-size="3.9" text-anchor="middle" fill="#3a3a3a">126(5)</text><line x1="261.65" y1="196.90" x2="261.65" y2="198.40" stroke="#777" stroke-width="0.4"/><text x="261.65" y="202.20" font-size="3.9" text-anchor="middle" fill="#3a3a3a">127(5)</text><line x1="269.89" y1="196.90" x2="269.89" y2="198.40" stroke="#777" stroke-width="0.4"/><text x="269.89" y="206.90" font-size="3.9" text-anchor="middle" fill="#3a3a3a">128(5)</text><line x1="278.13" y1="196.90" x2="278.13" y2="198.40" stroke="#777" stroke-width="0.4"/><text x="278.13" y="202.20" font-size="3.9" text-anchor="middle" fill="#3a3a3a">129(5)</text><line x1="286.36" y1="196.90" x2="286.36" y2="198.40" stroke="#777" stroke-width="0.4"/><text x="286.36" y="206.90" font-size="3.9" text-anchor="middle" fill="#3a3a3a">130(5)</text><line x1="294.60" y1="196.90" x2="294.60" y2="198.40" stroke="#777" stroke-width="0.4"/><text x="294.60" y="202.20" font-size="3.9" text-anchor="middle" fill="#3a3a3a">131(5)</text><line x1="302.83" y1="196.90" x2="302.83" y2="198.40" stroke="#777" stroke-width="0.4"/><text x="302.83" y="206.90" font-size="3.9" text-anchor="middle" fill="#3a3a3a">132(5)</text><line x1="311.07" y1="196.90" x2="311.07" y2="198.40" stroke="#777" stroke-width="0.4"/><text x="311.07" y="202.20" font-size="3.9" text-anchor="middle" fill="#3a3a3a">133(5)</text><line x1="319.31" y1="196.90" x2="319.31" y2="198.40" stroke="#777" stroke-width="0.4"/><text x="319.31" y="206.90" font-size="3.9" text-anchor="middle" fill="#3a3a3a">134(5)</text><line x1="327.54" y1="196.90" x2="327.54" y2="198.40" stroke="#777" stroke-width="0.4"/><text x="327.54" y="202.20" font-size="3.9" text-anchor="middle" fill="#3a3a3a">135(5)</text><line x1="335.78" y1="196.90" x2="335.78" y2="198.40" stroke="#777" stroke-width="0.4"/><text x="335.78" y="206.90" font-size="3.9" text-anchor="middle" fill="#3a3a3a">136(5)</text><line x1="344.01" y1="196.90" x2="344.01" y2="198.40" stroke="#777" stroke-width="0.4"/><text x="344.01" y="202.20" font-size="3.9" text-anchor="middle" fill="#3a3a3a">137(5)</text><line x1="352.25" y1="196.90" x2="352.25" y2="198.40" stroke="#777" stroke-width="0.4"/><text x="352.25" y="206.90" font-size="3.9" text-anchor="middle" fill="#3a3a3a">138(5)</text><line x1="360.49" y1="196.90" x2="360.49" y2="198.40" stroke="#777" stroke-width="0.4"/><text x="360.49" y="202.20" font-size="3.9" text-anchor="middle" fill="#3a3a3a">139(5)</text><line x1="368.72" y1="196.90" x2="368.72" y2="198.40" stroke="#777" stroke-width="0.4"/><text x="368.72" y="206.90" font-size="3.9" text-anchor="middle" fill="#3a3a3a">140(5)</text><line x1="376.96" y1="196.90" x2="376.96" y2="198.40" stroke="#777" stroke-width="0.4"/><text x="376.96" y="202.20" font-size="3.9" text-anchor="middle" fill="#3a3a3a">141(5)</text><line x1="385.19" y1="196.90" x2="385.19" y2="198.40" stroke="#777" stroke-width="0.4"/><text x="385.19" y="206.90" font-size="3.9" text-anchor="middle" fill="#3a3a3a">142(6)</text><line x1="393.43" y1="196.90" x2="393.43" y2="198.40" stroke="#777" stroke-width="0.4"/><text x="393.43" y="202.20" font-size="3.9" text-anchor="middle" fill="#3a3a3a">143(6)</text><line x1="401.67" y1="196.90" x2="401.67" y2="198.40" stroke="#777" stroke-width="0.4"/><text x="401.67" y="206.90" font-size="3.9" text-anchor="middle" fill="#3a3a3a">144(6)</text><line x1="409.90" y1="196.90" x2="409.90" y2="198.40" stroke="#777" stroke-width="0.4"/><text x="409.90" y="202.20" font-size="3.9" text-anchor="middle" fill="#3a3a3a">145(6)</text><line x1="418.14" y1="196.90" x2="418.14" y2="198.40" stroke="#777" stroke-width="0.4"/><text x="418.14" y="206.90" font-size="3.9" text-anchor="middle" fill="#3a3a3a">146(6)</text><line x1="426.37" y1="196.90" x2="426.37" y2="198.40" stroke="#777" stroke-width="0.4"/><text x="426.37" y="202.20" font-size="3.9" text-anchor="middle" fill="#3a3a3a">147(6)</text><line x1="434.61" y1="196.90" x2="434.61" y2="198.40" stroke="#777" stroke-width="0.4"/><text x="434.61" y="206.90" font-size="3.9" text-anchor="middle" fill="#3a3a3a">148(6)</text><line x1="442.85" y1="196.90" x2="442.85" y2="198.40" stroke="#777" stroke-width="0.4"/><text x="442.85" y="202.20" font-size="3.9" text-anchor="middle" fill="#3a3a3a">149(6)</text><line x1="451.08" y1="196.90" x2="451.08" y2="198.40" stroke="#777" stroke-width="0.4"/><text x="451.08" y="206.90" font-size="3.9" text-anchor="middle" fill="#3a3a3a">150(6)</text>
<g stroke="#000" stroke-opacity="0.45" stroke-width="0.35"><rect x="43.40" y="234.61" width="8.24" height="27.59" fill="#ffff00"/><rect x="43.40" y="228.68" width="8.24" height="5.93" fill="#0000ff"/><rect x="43.40" y="223.80" width="8.24" height="4.88" fill="#00ff00"/><rect x="43.40" y="216.60" width="8.24" height="7.20" fill="#ff0000"/><rect x="51.64" y="256.27" width="8.24" height="5.93" fill="#ffff00"/><rect x="51.64" y="244.92" width="8.24" height="11.35" fill="#0000ff"/><rect x="51.64" y="224.17" width="8.24" height="20.75" fill="#00ff00"/><rect x="51.64" y="216.60" width="8.24" height="7.57" fill="#ff0000"/><rect x="59.87" y="237.85" width="8.24" height="24.35" fill="#ffff00"/><rect x="59.87" y="228.87" width="8.24" height="8.98" fill="#0000ff"/><rect x="59.87" y="224.72" width="8.24" height="4.15" fill="#00ff00"/><rect x="59.87" y="216.60" width="8.24" height="8.12" fill="#ff0000"/><rect x="68.11" y="230.10" width="8.24" height="32.10" fill="#ffff00"/><rect x="68.11" y="227.04" width="8.24" height="3.06" fill="#0000ff"/><rect x="68.11" y="220.75" width="8.24" height="6.29" fill="#00ff00"/><rect x="68.11" y="216.60" width="8.24" height="4.15" fill="#ff0000"/><rect x="76.34" y="238.21" width="8.24" height="23.99" fill="#ffff00"/><rect x="76.34" y="234.61" width="8.24" height="3.60" fill="#0000ff"/><rect x="76.34" y="221.16" width="8.24" height="13.45" fill="#00ff00"/><rect x="76.34" y="216.60" width="8.24" height="4.56" fill="#ff0000"/><rect x="84.58" y="255.00" width="8.24" height="7.20" fill="#ffff00"/><rect x="84.58" y="244.19" width="8.24" height="10.81" fill="#0000ff"/><rect x="84.58" y="229.78" width="8.24" height="14.41" fill="#00ff00"/><rect x="84.58" y="216.60" width="8.24" height="13.18" fill="#ff0000"/><rect x="92.82" y="248.52" width="8.24" height="13.68" fill="#ffff00"/><rect x="92.82" y="238.76" width="8.24" height="9.76" fill="#0000ff"/><rect x="92.82" y="225.08" width="8.24" height="13.68" fill="#00ff00"/><rect x="92.82" y="216.60" width="8.24" height="8.48" fill="#ff0000"/><rect x="101.05" y="259.46" width="8.24" height="2.74" fill="#ffff00"/><rect x="101.05" y="246.33" width="8.24" height="13.13" fill="#0000ff"/><rect x="101.05" y="236.44" width="8.24" height="9.90" fill="#00ff00"/><rect x="101.05" y="216.60" width="8.24" height="19.84" fill="#ff0000"/><rect x="109.29" y="259.92" width="8.24" height="2.28" fill="#ffff00"/><rect x="109.29" y="245.42" width="8.24" height="14.50" fill="#0000ff"/><rect x="109.29" y="240.59" width="8.24" height="4.83" fill="#00ff00"/><rect x="109.29" y="216.60" width="8.24" height="23.99" fill="#ff0000"/><rect x="117.52" y="253.54" width="8.24" height="8.66" fill="#ffff00"/><rect x="117.52" y="239.49" width="8.24" height="14.04" fill="#0000ff"/><rect x="117.52" y="234.61" width="8.24" height="4.88" fill="#00ff00"/><rect x="117.52" y="216.60" width="8.24" height="18.01" fill="#ff0000"/><rect x="125.76" y="259.46" width="8.24" height="2.74" fill="#ffff00"/><rect x="125.76" y="235.16" width="8.24" height="24.30" fill="#0000ff"/><rect x="125.76" y="229.23" width="8.24" height="5.93" fill="#00ff00"/><rect x="125.76" y="216.60" width="8.24" height="12.63" fill="#ff0000"/><rect x="134.00" y="249.93" width="8.24" height="12.27" fill="#ffff00"/><rect x="134.00" y="234.25" width="8.24" height="15.69" fill="#0000ff"/><rect x="134.00" y="232.47" width="8.24" height="1.78" fill="#00ff00"/><rect x="134.00" y="216.60" width="8.24" height="15.87" fill="#ff0000"/><rect x="142.23" y="244.92" width="8.24" height="17.28" fill="#ffff00"/><rect x="142.23" y="231.92" width="8.24" height="13.00" fill="#0000ff"/><rect x="142.23" y="228.32" width="8.24" height="3.60" fill="#00ff00"/><rect x="142.23" y="216.60" width="8.24" height="11.72" fill="#ff0000"/><rect x="150.47" y="256.27" width="8.24" height="5.93" fill="#ffff00"/><rect x="150.47" y="253.17" width="8.24" height="3.10" fill="#0000ff"/><rect x="150.47" y="219.84" width="8.24" height="33.33" fill="#00ff00"/><rect x="150.47" y="216.60" width="8.24" height="3.24" fill="#ff0000"/><rect x="158.70" y="240.95" width="8.24" height="21.25" fill="#ffff00"/><rect x="158.70" y="230.10" width="8.24" height="10.85" fill="#0000ff"/><rect x="158.70" y="227.77" width="8.24" height="2.33" fill="#00ff00"/><rect x="158.70" y="216.60" width="8.24" height="11.17" fill="#ff0000"/><rect x="166.94" y="258.96" width="8.24" height="3.24" fill="#ffff00"/><rect x="166.94" y="236.07" width="8.24" height="22.89" fill="#0000ff"/><rect x="166.94" y="234.06" width="8.24" height="2.01" fill="#00ff00"/><rect x="166.94" y="216.60" width="8.24" height="17.46" fill="#ff0000"/><rect x="175.18" y="257.69" width="8.24" height="4.51" fill="#ffff00"/><rect x="175.18" y="241.82" width="8.24" height="15.87" fill="#0000ff"/><rect x="175.18" y="231.01" width="8.24" height="10.81" fill="#00ff00"/><rect x="175.18" y="216.60" width="8.24" height="14.41" fill="#ff0000"/><rect x="183.41" y="255.36" width="8.24" height="6.84" fill="#ffff00"/><rect x="183.41" y="232.47" width="8.24" height="22.89" fill="#0000ff"/><rect x="183.41" y="231.01" width="8.24" height="1.46" fill="#00ff00"/><rect x="183.41" y="216.60" width="8.24" height="14.41" fill="#ff0000"/><rect x="191.65" y="233.70" width="8.24" height="28.50" fill="#ffff00"/><rect x="191.65" y="225.26" width="8.24" height="8.44" fill="#0000ff"/><rect x="191.65" y="223.26" width="8.24" height="2.01" fill="#00ff00"/><rect x="191.65" y="216.60" width="8.24" height="6.66" fill="#ff0000"/><rect x="199.88" y="257.69" width="8.24" height="4.51" fill="#ffff00"/><rect x="199.88" y="237.35" width="8.24" height="20.34" fill="#0000ff"/><rect x="199.88" y="234.25" width="8.24" height="3.10" fill="#00ff00"/><rect x="199.88" y="216.60" width="8.24" height="17.65" fill="#ff0000"/><rect x="208.12" y="249.02" width="8.24" height="13.18" fill="#ffff00"/><rect x="208.12" y="233.20" width="8.24" height="15.82" fill="#0000ff"/><rect x="208.12" y="230.10" width="8.24" height="3.10" fill="#00ff00"/><rect x="208.12" y="216.60" width="8.24" height="13.50" fill="#ff0000"/><rect x="216.36" y="250.85" width="8.24" height="11.35" fill="#ffff00"/><rect x="216.36" y="234.61" width="8.24" height="16.23" fill="#0000ff"/><rect x="216.36" y="228.68" width="8.24" height="5.93" fill="#00ff00"/><rect x="216.36" y="216.60" width="8.24" height="12.08" fill="#ff0000"/><rect x="224.59" y="256.77" width="8.24" height="5.43" fill="#ffff00"/><rect x="224.59" y="242.73" width="8.24" height="14.04" fill="#0000ff"/><rect x="224.59" y="240.59" width="8.24" height="2.14" fill="#00ff00"/><rect x="224.59" y="216.60" width="8.24" height="23.99" fill="#ff0000"/><rect x="232.83" y="244.19" width="8.24" height="18.01" fill="#ffff00"/><rect x="232.83" y="231.01" width="8.24" height="13.18" fill="#0000ff"/><rect x="232.83" y="229.78" width="8.24" height="1.23" fill="#00ff00"/><rect x="232.83" y="216.60" width="8.24" height="13.18" fill="#ff0000"/><rect x="241.06" y="258.96" width="8.24" height="3.24" fill="#ffff00"/><rect x="241.06" y="237.85" width="8.24" height="21.11" fill="#0000ff"/><rect x="241.06" y="235.89" width="8.24" height="1.96" fill="#00ff00"/><rect x="241.06" y="216.60" width="8.24" height="19.29" fill="#ff0000"/></g>
<line x1="43.1" y1="262.50" x2="462.0" y2="262.50" stroke="#999" stroke-width="0.6"/>
<line x1="43.1" y1="216.60" x2="43.1" y2="262.50" stroke="#777" stroke-width="0.5"/>
<line x1="41.3" y1="262.20" x2="43.1" y2="262.20" stroke="#666" stroke-width="0.45"/><text x="39.6" y="263.60" font-size="3.9" text-anchor="end" fill="#3a3a3a">0.00</text><line x1="41.3" y1="253.08" x2="43.1" y2="253.08" stroke="#666" stroke-width="0.45"/><text x="39.6" y="254.48" font-size="3.9" text-anchor="end" fill="#3a3a3a">0.20</text><line x1="41.3" y1="243.96" x2="43.1" y2="243.96" stroke="#666" stroke-width="0.45"/><text x="39.6" y="245.36" font-size="3.9" text-anchor="end" fill="#3a3a3a">0.40</text><line x1="41.3" y1="234.84" x2="43.1" y2="234.84" stroke="#666" stroke-width="0.45"/><text x="39.6" y="236.24" font-size="3.9" text-anchor="end" fill="#3a3a3a">0.60</text><line x1="41.3" y1="225.72" x2="43.1" y2="225.72" stroke="#666" stroke-width="0.45"/><text x="39.6" y="227.12" font-size="3.9" text-anchor="end" fill="#3a3a3a">0.80</text><line x1="41.3" y1="216.60" x2="43.1" y2="216.60" stroke="#666" stroke-width="0.45"/><text x="39.6" y="218.00" font-size="3.9" text-anchor="end" fill="#3a3a3a">1.00</text>
<line x1="47.52" y1="262.50" x2="47.52" y2="264.00" stroke="#777" stroke-width="0.4"/><text x="47.52" y="267.80" font-size="3.9" text-anchor="middle" fill="#3a3a3a">151(6)</text><line x1="55.75" y1="262.50" x2="55.75" y2="264.00" stroke="#777" stroke-width="0.4"/><text x="55.75" y="272.50" font-size="3.9" text-anchor="middle" fill="#3a3a3a">152(6)</text><line x1="63.99" y1="262.50" x2="63.99" y2="264.00" stroke="#777" stroke-width="0.4"/><text x="63.99" y="267.80" font-size="3.9" text-anchor="middle" fill="#3a3a3a">153(6)</text><line x1="72.23" y1="262.50" x2="72.23" y2="264.00" stroke="#777" stroke-width="0.4"/><text x="72.23" y="272.50" font-size="3.9" text-anchor="middle" fill="#3a3a3a">154(6)</text><line x1="80.46" y1="262.50" x2="80.46" y2="264.00" stroke="#777" stroke-width="0.4"/><text x="80.46" y="267.80" font-size="3.9" text-anchor="middle" fill="#3a3a3a">155(6)</text><line x1="88.70" y1="262.50" x2="88.70" y2="264.00" stroke="#777" stroke-width="0.4"/><text x="88.70" y="272.50" font-size="3.9" text-anchor="middle" fill="#3a3a3a">156(6)</text><line x1="96.93" y1="262.50" x2="96.93" y2="264.00" stroke="#777" stroke-width="0.4"/><text x="96.93" y="267.80" font-size="3.9" text-anchor="middle" fill="#3a3a3a">157(6)</text><line x1="105.17" y1="262.50" x2="105.17" y2="264.00" stroke="#777" stroke-width="0.4"/><text x="105.17" y="272.50" font-size="3.9" text-anchor="middle" fill="#3a3a3a">158(6)</text><line x1="113.41" y1="262.50" x2="113.41" y2="264.00" stroke="#777" stroke-width="0.4"/><text x="113.41" y="267.80" font-size="3.9" text-anchor="middle" fill="#3a3a3a">159(6)</text><line x1="121.64" y1="262.50" x2="121.64" y2="264.00" stroke="#777" stroke-width="0.4"/><text x="121.64" y="272.50" font-size="3.9" text-anchor="middle" fill="#3a3a3a">160(6)</text><line x1="129.88" y1="262.50" x2="129.88" y2="264.00" stroke="#777" stroke-width="0.4"/><text x="129.88" y="267.80" font-size="3.9" text-anchor="middle" fill="#3a3a3a">161(6)</text><line x1="138.11" y1="262.50" x2="138.11" y2="264.00" stroke="#777" stroke-width="0.4"/><text x="138.11" y="272.50" font-size="3.9" text-anchor="middle" fill="#3a3a3a">162(6)</text><line x1="146.35" y1="262.50" x2="146.35" y2="264.00" stroke="#777" stroke-width="0.4"/><text x="146.35" y="267.80" font-size="3.9" text-anchor="middle" fill="#3a3a3a">163(6)</text><line x1="154.59" y1="262.50" x2="154.59" y2="264.00" stroke="#777" stroke-width="0.4"/><text x="154.59" y="272.50" font-size="3.9" text-anchor="middle" fill="#3a3a3a">164(6)</text><line x1="162.82" y1="262.50" x2="162.82" y2="264.00" stroke="#777" stroke-width="0.4"/><text x="162.82" y="267.80" font-size="3.9" text-anchor="middle" fill="#3a3a3a">165(6)</text><line x1="171.06" y1="262.50" x2="171.06" y2="264.00" stroke="#777" stroke-width="0.4"/><text x="171.06" y="272.50" font-size="3.9" text-anchor="middle" fill="#3a3a3a">166(7)</text><line x1="179.29" y1="262.50" x2="179.29" y2="264.00" stroke="#777" stroke-width="0.4"/><text x="179.29" y="267.80" font-size="3.9" text-anchor="middle" fill="#3a3a3a">167(7)</text><line x1="187.53" y1="262.50" x2="187.53" y2="264.00" stroke="#777" stroke-width="0.4"/><text x="187.53" y="272.50" font-size="3.9" text-anchor="middle" fill="#3a3a3a">168(7)</text><line x1="195.77" y1="262.50" x2="195.77" y2="264.00" stroke="#777" stroke-width="0.4"/><text x="195.77" y="267.80" font-size="3.9" text-anchor="middle" fill="#3a3a3a">169(7)</text><line x1="204.00" y1="262.50" x2="204.00" y2="264.00" stroke="#777" stroke-width="0.4"/><text x="204.00" y="272.50" font-size="3.9" text-anchor="middle" fill="#3a3a3a">170(7)</text><line x1="212.24" y1="262.50" x2="212.24" y2="264.00" stroke="#777" stroke-width="0.4"/><text x="212.24" y="267.80" font-size="3.9" text-anchor="middle" fill="#3a3a3a">171(7)</text><line x1="220.47" y1="262.50" x2="220.47" y2="264.00" stroke="#777" stroke-width="0.4"/><text x="220.47" y="272.50" font-size="3.9" text-anchor="middle" fill="#3a3a3a">172(7)</text><line x1="228.71" y1="262.50" x2="228.71" y2="264.00" stroke="#777" stroke-width="0.4"/><text x="228.71" y="267.80" font-size="3.9" text-anchor="middle" fill="#3a3a3a">173(7)</text><line x1="236.95" y1="262.50" x2="236.95" y2="264.00" stroke="#777" stroke-width="0.4"/><text x="236.95" y="272.50" font-size="3.9" text-anchor="middle" fill="#3a3a3a">174(7)</text><line x1="245.18" y1="262.50" x2="245.18" y2="264.00" stroke="#777" stroke-width="0.4"/><text x="245.18" y="267.80" font-size="3.9" text-anchor="middle" fill="#3a3a3a">175(7)</text>
<clipPath id="mc"><rect x="30" y="276" width="424.5" height="262"/></clipPath>
<g clip-path="url(#mc)">
<path d="M112.1,328.8 L114.6,333.0 L115.6,335.9 L116.3,338.9 L119.7,342.2 L123.9,343.9 L125.8,346.3 L127.2,349.0 L129.7,350.8 L132.3,352.3 L135.4,351.4 L138.7,351.2" fill="none" stroke="#141414" stroke-width="0.75" stroke-linejoin="round" stroke-linecap="round" />
<path d="M138.7,351.2 L136.6,352.8 L134.6,354.6 L132.5,356.2 L131.1,358.5 L129.2,360.4 L127.5,362.5 L125.3,365.3 L122.5,367.5 L122.9,371.2 L123.2,375.0 L121.7,378.9 L118.6,382.0 L118.6,384.8 L117.8,387.4 L114.7,390.5 L112.4,395.1 L112.0,398.3 L110.9,401.3 L110.6,404.4 L110.1,407.5 L110.9,411.3 L108.5,414.4 L109.3,417.5 L112.4,420.6 L115.5,422.9" fill="none" stroke="#141414" stroke-width="0.75" stroke-linejoin="round" stroke-linecap="round" />
<path d="M109.3,417.5 L113.2,416.0 L117.0,413.6 L120.1,415.2 L123.2,418.3" fill="none" stroke="#141414" stroke-width="0.75" stroke-linejoin="round" stroke-linecap="round" />
<path d="M98.0,408.0 L98.6,411.0 L100.1,413.8 L100.9,416.8 L101.6,419.8 L102.2,422.9 L103.1,426.0 L103.1,429.2 L103.9,432.2 L104.6,435.3 L105.5,438.4 L105.6,441.5 L105.5,444.6 L104.7,449.2" fill="none" stroke="#141414" stroke-width="0.75" stroke-linejoin="round" stroke-linecap="round" />
<path d="M113.2,441.5 L110.5,444.3 L108.5,447.6 L105.5,450.7" fill="none" stroke="#141414" stroke-width="0.75" stroke-linejoin="round" stroke-linecap="round" />
<path d="M97.5,425.0 L97.8,428.0 L96.9,430.9 L97.3,433.9 L97.0,436.8 L97.1,439.4 L96.8,442.0 L96.2,444.6 L96.0,448.5 L95.4,452.3 L94.9,456.1 L95.0,460.0 L94.7,463.5 L93.9,467.0 L92.5,469.9 L91.3,472.9 L88.8,477.1" fill="none" stroke="#141414" stroke-width="0.75" stroke-linejoin="round" stroke-linecap="round" />
<path d="M101.6,375.0 L99.9,377.6 L98.5,380.4 L96.3,382.0 L93.9,383.5 L90.0,384.3" fill="none" stroke="#141414" stroke-width="0.75" stroke-linejoin="round" stroke-linecap="round" />
<path d="M107.5,355.0 L110.0,354.2 L112.4,353.0 L115.0,352.5 L117.6,352.9 L120.1,353.7 L122.5,354.9 L125.0,355.5 L128.8,356.4 L132.5,357.5" fill="none" stroke="#141414" stroke-width="0.75" stroke-linejoin="round" stroke-linecap="round" />
<path d="M137.5,353.0 L135.6,355.0 L133.4,356.6 L131.5,358.5 L129.9,360.5 L128.3,362.6 L126.5,364.5 L124.1,366.8 L122.0,369.5 L121.5,374.0" fill="none" stroke="#141414" stroke-width="0.75" stroke-linejoin="round" stroke-linecap="round" />
<path d="M130.0,361.5 L127.4,363.1 L125.1,365.2 L122.4,366.8 L120.9,369.2 L119.6,371.7 L118.2,374.1 L114.9,375.4 L111.9,377.3 L109.0,377.8 L106.3,378.9 L103.5,379.4 L101.1,380.6 L99.3,382.5 L95.7,383.9 L92.0,384.6" fill="none" stroke="#141414" stroke-width="0.75" stroke-linejoin="round" stroke-linecap="round" />
<path d="M55.2,367.8 L58.4,368.8 L61.5,370.0 L64.0,372.8 L66.8,375.2 L69.1,376.5 L71.0,378.3" fill="none" stroke="#141414" stroke-width="0.75" stroke-linejoin="round" stroke-linecap="round" />
<path d="M40.0,420.0 L43.1,420.6 L46.2,421.2 L49.6,420.2 L53.2,420.0" fill="none" stroke="#141414" stroke-width="0.75" stroke-linejoin="round" stroke-linecap="round" />
<path d="M40.1,447.6 L42.5,449.8 L45.1,451.8 L47.5,454.1 L50.2,456.0 L52.7,457.7" fill="none" stroke="#141414" stroke-width="0.75" stroke-linejoin="round" stroke-linecap="round" />
<path d="M45.1,470.3 L40.9,469.5" fill="none" stroke="#141414" stroke-width="0.75" stroke-linejoin="round" stroke-linecap="round" />
<path d="M48.5,471.2 L45.5,472.0 L42.6,472.9 L40.9,476.2" fill="none" stroke="#141414" stroke-width="0.75" stroke-linejoin="round" stroke-linecap="round" />
<path d="M91.0,481.0 L92.7,484.2 L95.0,487.0 L97.6,489.6 L100.0,492.5 L102.9,494.6 L106.0,496.5" fill="none" stroke="#141414" stroke-width="0.75" stroke-linejoin="round" stroke-linecap="round" />
<path d="M175.2,394.4 L179.4,396.9 L181.9,401.1 L179.0,401.4 L176.1,401.9 L173.5,403.1 L171.0,404.5 L168.5,405.3" fill="none" stroke="#141414" stroke-width="0.75" stroke-linejoin="round" stroke-linecap="round" />
<path d="M165.1,427.1 L168.5,427.9 L171.8,428.8 L174.2,431.1 L176.9,433.0 L179.1,435.4 L181.9,437.2 L184.0,439.3 L186.1,441.4 L190.3,441.4 L195.4,440.6 L195.4,444.1 L195.6,447.5 L196.2,450.8 L195.8,454.2 L196.2,457.5 L196.9,460.9 L197.4,464.3 L198.7,467.5 L198.5,470.8" fill="none" stroke="#141414" stroke-width="0.75" stroke-linejoin="round" stroke-linecap="round" />
<path d="M181.9,401.1 L182.5,405.0 L183.6,408.7 L185.5,412.0 L187.0,415.4 L188.7,418.7 L190.3,422.1 L191.5,425.5 L192.9,428.8 L194.1,432.1 L194.5,435.5 L195.4,440.6" fill="none" stroke="#141414" stroke-width="0.75" stroke-linejoin="round" stroke-linecap="round" />
<path d="M186.1,441.4 L184.5,445.6 L184.1,449.1 L183.7,452.5 L182.7,455.1 L181.5,457.7 L180.3,460.2 L178.7,462.5 L176.4,464.8 L174.8,467.7 L172.5,470.0 L170.1,471.9 L167.6,473.4 L165.0,475.0 L161.6,475.1 L158.4,476.2 L155.0,476.2 L151.7,475.8 L148.3,475.4 L145.0,475.0 L142.0,475.5 L139.1,476.4 L136.2,477.5 L136.5,481.3 L137.5,485.0" fill="none" stroke="#141414" stroke-width="0.75" stroke-linejoin="round" stroke-linecap="round" />
<path d="M260.0,290.0 L261.2,295.0 L260.1,297.6 L258.7,300.0 L257.5,302.5 L256.2,305.0 L253.7,307.0" fill="none" stroke="#141414" stroke-width="0.75" stroke-linejoin="round" stroke-linecap="round" />
<path d="M295.0,288.7 L294.5,292.5 L293.7,296.2 L294.0,299.4 L295.0,302.5" fill="none" stroke="#141414" stroke-width="0.75" stroke-linejoin="round" stroke-linecap="round" />
<path d="M270.0,316.2 L268.4,318.5 L267.5,321.2 L270.2,322.8 L272.5,325.0 L270.8,327.1 L268.7,328.7 L265.0,330.0 L262.0,332.1 L258.7,333.7 L257.7,336.9 L256.2,340.0 L256.6,343.3 L257.0,346.7 L257.5,350.0 L258.1,353.3 L258.7,356.6 L258.7,360.0 L258.2,363.8 L257.5,367.5 L260.1,369.3 L262.5,371.2 L265.0,372.1 L267.4,373.3 L270.0,373.7 L272.6,375.3 L275.3,376.6 L278.0,378.0 L280.6,380.1 L283.2,382.1 L286.0,384.0" fill="none" stroke="#141414" stroke-width="0.75" stroke-linejoin="round" stroke-linecap="round" />
<path d="M276.2,315.0 L277.8,317.9 L278.7,321.2 L280.1,324.3 L281.8,327.2 L283.7,330.0 L284.2,332.6 L285.1,335.1 L286.2,337.5 L287.1,340.8 L288.0,344.1 L288.7,347.5 L288.5,351.3 L287.5,355.0 L284.9,357.4 L282.5,360.0 L280.9,362.7 L278.7,365.0 L277.2,368.3 L275.0,371.2" fill="none" stroke="#141414" stroke-width="0.75" stroke-linejoin="round" stroke-linecap="round" />
<path d="M262.5,345.0 L264.6,347.3 L266.2,350.0 L268.9,352.3 L271.2,355.0 L273.2,357.4 L275.0,360.0 L277.1,361.6 L278.7,363.7" fill="none" stroke="#141414" stroke-width="0.75" stroke-linejoin="round" stroke-linecap="round" />
<path d="M261.1,355.4 L262.9,357.4 L264.2,359.7 L265.3,362.1 L268.1,364.8 L270.4,368.0 L272.6,369.6 L274.6,371.3" fill="none" stroke="#141414" stroke-width="0.75" stroke-linejoin="round" stroke-linecap="round" />
<path d="M247.5,376.2 L250.2,377.1 L252.3,379.0 L255.0,380.0 L257.0,382.1 L259.4,383.9 L261.2,386.2 L263.4,387.7 L265.5,389.4 L267.5,391.2" fill="none" stroke="#141414" stroke-width="0.75" stroke-linejoin="round" stroke-linecap="round" />
<path d="M413.6,318.7 L414.6,322.0 L415.6,325.3 L416.1,328.7 L416.6,331.6 L417.3,334.4 L418.6,337.1 L419.1,340.5 L419.5,343.9 L420.3,346.4 L421.1,348.9" fill="none" stroke="#141414" stroke-width="0.75" stroke-linejoin="round" stroke-linecap="round" />
<path d="M415.3,315.3 L417.3,318.5 L418.6,322.0 L420.3,324.0 L421.5,326.4 L422.8,328.7 L425.9,331.1 L428.7,333.8 L431.0,336.1 L433.7,338.0 L436.0,340.3 L437.9,343.0" fill="none" stroke="#141414" stroke-width="0.75" stroke-linejoin="round" stroke-linecap="round" />
<path d="M439.6,343.0 L442.7,343.4 L445.5,344.7 L448.2,345.9 L451.1,346.4 L453.9,347.2 L458.0,348.0" fill="none" stroke="#141414" stroke-width="0.75" stroke-linejoin="round" stroke-linecap="round" />
<path d="M448.0,320.3 L450.9,319.6 L453.9,319.5 L458.0,319.0" fill="none" stroke="#141414" stroke-width="0.75" stroke-linejoin="round" stroke-linecap="round" />
<path d="M354.1,278.4 L353.3,280.9 L352.5,283.4 L349.1,286.8 L348.7,289.4 L347.4,291.8 L347.0,295.1 L346.6,298.5" fill="none" stroke="#141414" stroke-width="0.75" stroke-linejoin="round" stroke-linecap="round" />
<path d="M319.7,290.1 L320.6,292.8 L322.2,295.2 L321.4,300.2 L322.4,302.9 L323.9,305.3 L324.6,307.9 L325.6,310.3 L324.7,315.3 L325.8,317.8 L326.4,320.4 L328.9,323.7" fill="none" stroke="#141414" stroke-width="0.75" stroke-linejoin="round" stroke-linecap="round" />
<path d="M327.2,293.5 L328.2,296.0 L328.9,298.5 L330.6,302.7 L329.8,306.9 L331.4,311.1 L331.3,314.1 L330.6,317.0 L331.2,319.6 L332.3,322.1" fill="none" stroke="#141414" stroke-width="0.75" stroke-linejoin="round" stroke-linecap="round" />
<path d="M339.8,293.5 L338.5,296.0 L337.3,298.5 L335.8,300.9 L334.8,303.6 L334.0,308.6 L333.3,311.2 L332.3,313.7" fill="none" stroke="#141414" stroke-width="0.75" stroke-linejoin="round" stroke-linecap="round" />
<path d="M343.2,291.0 L344.1,296.0 L342.4,300.2 L341.3,302.9 L339.8,305.3 L337.9,307.6 L336.5,310.3 L335.2,312.7 L334.8,315.3" fill="none" stroke="#141414" stroke-width="0.75" stroke-linejoin="round" stroke-linecap="round" />
<path d="M377.7,286.8 L380.2,289.3 L378.5,291.8" fill="none" stroke="#141414" stroke-width="0.75" stroke-linejoin="round" stroke-linecap="round" />
<path d="M422.0,350.0 L424.4,351.1 L426.9,351.9 L429.5,352.5 L431.2,354.6 L433.1,356.4 L435.3,358.0 L437.0,360.0 L438.7,362.5 L440.4,364.9 L442.0,367.5 L443.6,369.8 L444.8,372.3 L445.7,375.0 L445.5,378.4 L445.1,381.7 L444.5,385.0 L444.7,388.0 L444.9,391.1 L445.7,394.0 L445.4,391.2 L445.6,388.4 L445.4,385.6 L445.1,382.8 L444.5,380.0" fill="none" stroke="#141414" stroke-width="0.75" stroke-linejoin="round" stroke-linecap="round" />
<path d="M337.2,426.1 L340.6,429.4 L342.4,431.4 L344.0,433.6 L345.9,435.6 L347.5,438.0 L350.2,440.1 L352.5,442.5 L355.2,443.9 L357.6,445.6 L360.0,447.5 L365.0,447.5" fill="none" stroke="#141414" stroke-width="0.75" stroke-linejoin="round" stroke-linecap="round" />
<path d="M337.2,426.1 L340.6,423.5 L342.9,421.8 L345.0,420.0 L348.4,419.9 L351.7,419.4 L355.0,418.7 L358.3,419.1 L361.6,419.7 L365.0,420.0 L367.8,419.9 L370.6,419.0 L373.4,419.2 L376.2,418.7" fill="none" stroke="#141414" stroke-width="0.75" stroke-linejoin="round" stroke-linecap="round" />
<path d="M345.0,420.0 L347.0,417.7 L348.5,415.1 L350.0,412.5 L352.6,410.6 L355.0,408.3 L357.5,406.2 L359.8,404.3 L362.6,403.1 L365.0,401.2 L367.4,400.1 L370.1,399.6 L372.6,398.8 L375.0,397.5 L378.3,396.6 L381.6,395.7 L385.0,395.0 L387.7,394.1 L390.0,392.5" fill="none" stroke="#141414" stroke-width="0.75" stroke-linejoin="round" stroke-linecap="round" />
<path d="M362.5,392.5 L361.5,395.8 L361.1,399.2 L360.0,402.5 L357.5,406.2" fill="none" stroke="#141414" stroke-width="0.75" stroke-linejoin="round" stroke-linecap="round" />
<path d="M382.5,407.5 L385.1,408.4 L387.6,409.7 L390.0,411.2 L392.9,412.0 L396.0,412.3 L399.0,412.5 L401.6,411.4 L404.4,411.1 L407.0,410.0 L410.1,410.7 L413.2,410.7 L416.4,410.8 L419.5,411.2 L422.4,412.9 L425.5,414.2 L428.2,416.2 L431.6,417.7 L434.5,420.0 L437.8,420.4 L441.2,420.1 L444.5,420.0 L447.4,421.7 L450.1,423.7 L453.2,425.0 L455.6,425.9 L458.0,427.0" fill="none" stroke="#141414" stroke-width="0.75" stroke-linejoin="round" stroke-linecap="round" />
<path d="M390.7,396.2 L393.7,396.1 L396.6,395.7 L399.5,395.0 L401.9,393.5 L404.4,392.3 L407.0,391.2 L409.4,390.1 L411.9,389.1 L414.5,388.5 L417.0,387.5 L419.9,387.7 L422.8,388.2 L425.7,388.7 L427.6,390.6 L428.7,393.1 L430.7,395.0 L433.9,396.7 L437.0,398.7 L438.9,401.2 L440.7,403.7" fill="none" stroke="#141414" stroke-width="0.75" stroke-linejoin="round" stroke-linecap="round" />
<path d="M444.5,380.0 L445.0,383.8 L445.7,387.5 L444.7,390.5 L444.5,393.7 L447.6,395.5 L450.7,397.5 L450.8,400.9 L451.6,404.2 L452.0,407.5" fill="none" stroke="#141414" stroke-width="0.75" stroke-linejoin="round" stroke-linecap="round" />
<path d="M363.2,448.7 L366.0,448.4 L368.9,448.1 L371.6,447.4 L374.5,447.5 L377.0,446.2 L379.4,444.7 L381.8,443.4 L384.5,442.5 L387.1,441.1 L389.3,438.9 L392.0,437.5 L395.8,437.5 L399.5,437.5 L401.4,440.1 L403.6,442.5 L405.7,445.0 L408.7,445.2 L411.6,445.8 L414.5,446.2 L417.0,447.5 L419.4,449.0 L422.0,450.0 L424.0,452.3 L425.3,455.0 L427.0,457.5 L428.9,460.3 L430.5,463.2 L432.0,466.2 L437.0,467.5" fill="none" stroke="#141414" stroke-width="0.75" stroke-linejoin="round" stroke-linecap="round" />
<path d="M359.5,452.5 L361.2,454.5 L363.2,456.3 L365.1,458.2 L367.0,460.0 L369.4,462.2 L371.8,464.4 L374.5,466.2 L377.8,467.0 L381.1,468.0 L384.5,468.7 L387.8,468.3 L391.2,467.9 L394.5,467.5 L397.3,469.3 L400.3,470.8 L403.2,472.5 L405.7,474.2 L408.2,475.8 L410.7,477.5 L413.4,478.5 L416.3,478.9 L419.1,479.7 L422.0,480.0 L424.9,480.4 L427.8,479.8 L430.7,480.0 L432.8,482.5 L434.6,485.3 L437.0,487.5 L439.9,488.2 L442.8,488.0 L445.7,488.7 L448.3,489.2 L450.7,490.3 L453.2,491.2 L458.0,492.0" fill="none" stroke="#141414" stroke-width="0.75" stroke-linejoin="round" stroke-linecap="round" />
<path d="M333.7,499.0 L335.6,496.9 L337.7,495.3 L340.0,493.7 L342.4,492.5 L345.0,492.2 L347.5,491.2 L350.7,491.1 L353.9,490.8 L357.0,490.0 L359.6,490.6 L361.9,492.0 L364.4,492.9 L367.0,493.7 L369.6,494.2 L371.9,495.5 L374.4,496.4 L377.1,496.5 L379.5,497.5 L382.6,497.9 L385.8,497.4 L388.9,497.5 L392.0,497.5 L395.3,498.4 L398.6,498.8 L402.0,499.0 L404.7,499.5 L407.2,500.5 L409.8,501.4 L412.4,502.1 L415.0,503.0 L417.7,503.3 L420.2,504.0 L422.8,505.0 L425.5,505.0 L428.0,506.0 L431.0,505.7 L434.0,505.3 L437.0,505.0 L438.9,507.8 L440.0,511.0 L443.6,512.4 L447.0,514.0 L450.0,514.8 L453.0,515.3 L456.0,516.0" fill="none" stroke="#141414" stroke-width="0.75" stroke-linejoin="round" stroke-linecap="round" />
<path d="M284.2,487.2 L286.6,486.0 L289.3,485.9 L291.7,484.7 L294.1,485.8 L296.6,486.8 L299.2,487.2 L301.9,488.1 L304.3,489.5 L306.7,491.0 L309.9,491.2 L313.0,492.2 L316.7,493.1 L320.5,493.5 L323.1,495.0 L325.7,496.6 L328.0,498.5 L330.5,497.2 L333.2,496.3 L335.5,494.7 L339.3,494.4 L343.0,493.5 L346.7,492.6 L350.5,492.2 L353.7,491.3 L357.0,491.0" fill="none" stroke="#141414" stroke-width="0.75" stroke-linejoin="round" stroke-linecap="round" />
<path d="M341.7,431.0 L343.1,433.7 L345.0,436.0 L346.7,438.5 L348.7,440.3 L351.1,441.5 L353.0,443.5 L354.7,445.8 L355.5,448.6 L357.0,451.0" fill="none" stroke="#141414" stroke-width="0.75" stroke-linejoin="round" stroke-linecap="round" />
<path d="M208.1,344.5 L210.8,346.6 L212.9,348.7 L214.4,350.8 L216.0,349.2 L217.1,346.6 L219.2,345.5 L222.3,346.0 L224.4,348.1 L225.5,351.8 L225.5,356.0 L224.9,360.2 L223.4,364.4 L221.8,368.6 L221.3,372.8 L222.3,377.0 L223.2,380.2 L221.4,382.6 L219.3,384.4 L217.2,386.0 L214.7,390.2 L214.7,393.6 L213.9,396.9 L212.6,400.1 L212.2,403.6 L213.3,407.0 L214.7,410.3 L215.7,413.0 L217.2,415.4 L217.2,418.8 L216.4,422.1 L215.6,425.4 L215.5,428.8 L215.7,431.6 L214.6,434.4 L214.7,437.2 L215.0,440.0 L215.4,442.8 L215.5,445.6 L214.0,449.0 L212.5,452.5 L211.7,455.8 L212.1,459.2 L211.5,462.5 L212.5,465.4 L212.7,468.5 L213.6,471.8 L214.5,475.0 L214.5,480.0 L214.9,483.4 L215.2,486.8 L215.0,490.2 L215.4,493.6 L215.6,496.9 L215.3,500.3 L215.7,503.6 L215.7,507.0 L215.6,510.3 L215.9,513.7 L215.5,517.0 L215.8,520.4 L216.2,523.2 L216.1,526.0" fill="none" stroke="#050505" stroke-width="1.05" stroke-linejoin="round" stroke-linecap="round" />
<path d="M198.5,470.8 L198.5,473.4 L201.8,473.8 L205.2,474.2 L208.7,475.1 L211.9,476.7 L212.5,480.0 L212.8,483.4 L212.8,486.9 L211.9,490.2 L210.5,492.8 L208.6,495.2 L207.3,498.0 L205.2,500.3 L202.9,502.7 L201.0,505.3 L201.8,509.5 L203.9,511.6 L206.0,513.7 L207.9,515.6 L209.4,517.9 L210.3,520.8 L211.1,523.8 L213.4,525.8 L216.1,527.1 L218.7,531.3" fill="none" stroke="#050505" stroke-width="1.05" stroke-linejoin="round" stroke-linecap="round" />
<path d="M219.2,345.5 L221.3,347.6 L222.8,350.8 L223.4,355.0 L223.6,359.2 L223.9,361.8 L223.4,364.4" fill="none" stroke="#050505" stroke-width="1.05" stroke-linejoin="round" stroke-linecap="round" />
<path d="M221.4,382.6 L221.5,385.6 L222.3,388.5 L221.1,391.0 L219.7,393.5 L218.9,396.9 L218.1,400.3 L217.3,403.6 L217.2,407.0 L218.1,412.0 L217.2,415.4" fill="none" stroke="#050505" stroke-width="1.05" stroke-linejoin="round" stroke-linecap="round" />
<path d="M397.0,295.0 L395.4,297.7 L393.6,300.2 L391.1,301.0 L388.6,301.9 L384.4,302.7 L380.2,305.3 L376.0,307.8 L371.8,308.6 L367.6,311.1 L364.2,313.7 L360.9,317.0 L358.3,320.4 L355.8,323.7 L354.1,327.1 L349.9,325.4 L345.7,326.3 L341.5,328.8 L339.0,332.1 L338.2,337.2 L340.5,341.0 L340.1,343.6 L339.7,346.2 L340.0,348.9 L338.6,352.0 L336.6,354.9 L335.3,358.1 L334.0,360.5 L333.0,363.0 L329.4,364.4 L326.0,366.0 L323.0,367.1 L320.0,368.0 L317.3,369.0 L314.5,369.8 L312.4,371.8 L309.7,373.1 L308.4,375.6 L306.9,377.9 L305.0,380.0 L303.4,382.3 L302.4,384.9 L301.1,387.4 L299.8,389.8 L298.0,392.0 L296.5,394.5 L295.3,397.0 L294.2,399.7 L293.4,402.5 L292.0,405.0 L291.1,407.6 L289.9,410.1 L288.5,412.5 L287.6,415.1 L286.2,417.5 L285.0,420.0 L283.9,422.8 L281.9,425.2 L280.6,428.0 L279.7,430.9 L278.4,433.6 L280.3,436.4 L281.8,439.5 L283.9,441.6 L286.5,443.0 L287.2,445.8 L287.6,448.7 L286.9,452.1 L286.0,455.5 L286.9,458.8 L286.8,462.2 L287.8,465.5 L288.5,468.9 L289.3,474.0 L288.6,477.5 L287.8,481.0 L286.0,484.1 L284.2,487.2 L282.6,490.5 L280.5,493.5" fill="none" stroke="#050505" stroke-width="1.05" stroke-linejoin="round" stroke-linecap="round" />
<path d="M286.8,442.5 L288.9,439.3 L291.0,436.1 L293.1,434.3 L295.5,433.2 L298.0,432.0 L300.6,430.7 L303.4,430.2 L306.1,429.4 L309.5,426.9 L313.7,424.4 L317.0,423.5 L320.4,423.5 L323.8,423.0 L327.1,423.5 L329.7,424.2 L332.2,425.2 L337.2,426.1" fill="none" stroke="#050505" stroke-width="1.05" stroke-linejoin="round" stroke-linecap="round" />
<path d="M347.4,282.6 L347.3,285.5 L346.6,288.4 L345.7,293.5 L346.6,298.5 L345.7,301.0 L344.9,303.6 L345.7,308.6 L346.5,311.2 L347.4,313.7 L349.1,317.9 L351.0,319.7 L353.3,321.2 L355.8,323.7" fill="none" stroke="#050505" stroke-width="1.05" stroke-linejoin="round" stroke-linecap="round" />
<path d="M357.3,322.3 L356.0,325.1 L355.0,328.1 L352.5,330.2 L350.4,332.7 L348.3,336.0 L346.9,339.6 L346.6,342.7 L346.3,345.8 L345.7,348.9 L344.5,351.8 L344.5,355.1 L343.4,358.1 L341.5,361.5 L340.0,365.0 L337.9,366.9 L336.0,369.0" fill="none" stroke="#050505" stroke-width="1.05" stroke-linejoin="round" stroke-linecap="round" />
<path d="M355.8,323.7 L356.8,327.0 L356.6,330.5 L357.5,333.8 L358.3,338.9 L358.4,342.3 L359.2,345.6 L359.1,348.7 L359.0,351.9 L359.2,355.0" fill="none" stroke="#050505" stroke-width="1.05" stroke-linejoin="round" stroke-linecap="round" />
<path d="M52.7,457.7 L57.7,456.9 L60.2,458.0 L62.8,458.6 L66.1,461.1 L68.7,462.0" fill="none" stroke="#000" stroke-width="1.0" stroke-linejoin="round" stroke-linecap="round" />
<path d="M52.7,457.7 L52.2,460.4 L51.0,462.8 L50.6,465.7 L50.2,468.7 L48.5,471.2" fill="none" stroke="#000" stroke-width="1.0" stroke-linejoin="round" stroke-linecap="round" />
<path d="M48.5,471.2 L52.7,472.9 L56.1,475.4 L61.1,476.7 L66.1,477.4 L69.1,477.3 L72.0,477.1 L77.1,476.2 L79.5,477.4 L82.1,477.9 L87.1,478.7 L88.8,477.9" fill="none" stroke="#000" stroke-width="1.0" stroke-linejoin="round" stroke-linecap="round" />
<path d="M411.1,296.0 L411.2,298.9 L411.9,301.8 L412.4,305.3 L413.6,308.6 L414.4,312.0 L415.3,315.3 L416.9,319.5 L421.1,321.2 L426.2,322.0 L429.5,319.5 L430.4,314.5" fill="none" stroke="#000" stroke-width="1.0" stroke-linejoin="round" stroke-linecap="round" />
<path d="M280.5,493.5 L279.5,497.2 L279.2,501.0 L279.9,504.4 L280.7,507.7 L281.7,511.0 L282.4,514.3 L283.0,517.6 L283.0,521.0 L284.2,524.2 L284.8,527.6 L285.5,531.0" fill="none" stroke="#000" stroke-width="1.15" stroke-linejoin="round" stroke-linecap="round" />
<path d="M104.9,447.6 L105.2,451.0 L105.8,455.2" fill="none" stroke="#000" stroke-width="1.4" stroke-linejoin="round" stroke-linecap="round" />
<path d="M309.2,373.6 L312.0,371.6 L314.9,369.6" fill="none" stroke="#000" stroke-width="2.8" stroke-linejoin="round" stroke-linecap="round" />
<path d="M281.0,478.2 L283.0,477.0" fill="none" stroke="#000" stroke-width="1.7" stroke-linejoin="round" stroke-linecap="round" />
<path d="M283.0,477.0 L286.0,476.0 L288.5,474.5" fill="none" stroke="#111" stroke-width="0.6" stroke-linejoin="round" stroke-linecap="round" />
<path d="M40.0,295.5 L43.3,296.0 L46.7,295.9 L50.0,296.0 L53.9,295.5 L57.7,294.8 L60.3,296.8 L61.4,299.8 L62.8,302.7 L64.3,305.3 L66.1,307.7 L68.2,309.8 L70.3,311.9 L72.7,313.2 L74.5,315.3 L77.1,316.9 L80.0,318.0 L83.0,318.5 L86.0,318.5 L89.0,318.8 L92.0,319.0 L95.4,318.5 L98.6,317.2 L102.0,317.0" fill="none" stroke="#000" stroke-width="0.95" stroke-linejoin="round" stroke-linecap="round" />
<path d="M91.3,288.4 L90.8,291.3 L90.8,294.3 L93.0,298.5 L95.5,302.7 L98.1,306.9 L98.7,309.8 L98.9,312.8 L99.9,316.1 L102.0,317.0" fill="none" stroke="#000" stroke-width="1.0" stroke-linejoin="round" stroke-linecap="round" />
<path d="M102.0,317.0 L106.2,317.9 L108.7,319.5 L110.4,323.7 L112.1,327.1 L115.5,328.8 L119.7,330.5 L122.2,331.6 L123.9,333.8 L127.2,337.2 L130.6,340.5 L133.9,343.9 L136.6,346.0 L138.7,348.7 L141.0,350.3 L143.7,351.2 L146.9,351.1 L150.0,352.0 L153.4,352.1 L156.7,352.2 L160.0,351.2 L163.3,351.5 L166.7,351.5 L170.0,352.0 L173.3,352.1 L176.7,352.6 L180.0,352.5 L183.8,352.0 L187.5,350.7 L191.3,350.8 L195.0,350.5 L198.2,350.8 L201.3,349.2 L203.4,346.0 L206.6,345.0 L208.1,344.5 L205.5,342.4 L203.9,339.2 L204.5,335.0 L205.0,331.2 L207.0,329.5 L208.7,327.5 L210.0,323.7 L213.7,322.0 L216.4,321.6 L219.0,322.5 L221.9,321.3 L225.0,321.2 L228.8,320.8 L232.5,321.2 L236.3,320.7 L240.0,319.5 L242.9,317.0 L246.2,315.0 L248.0,313.0 L248.9,310.3 L251.2,308.7 L252.6,306.3 L256.3,308.6 L259.7,310.3 L262.2,312.8 L265.6,314.5 L269.8,316.2 L272.1,314.5 L275.0,314.2 L277.3,311.8 L280.0,310.0 L282.7,308.3 L285.0,306.2 L290.0,305.0 L292.6,304.0 L295.0,302.5 L297.1,300.2 L298.7,297.5 L299.6,294.2 L301.2,291.2 L303.1,288.7 L305.0,286.2 L307.5,284.3 L310.0,282.5 L312.6,280.8 L315.0,278.6 L318.0,277.5 L323.0,276.7 L325.4,278.1 L328.1,278.4 L330.7,278.7 L333.1,280.0 L336.5,282.6 L341.5,283.4 L346.6,282.6 L350.8,280.0 L354.1,278.4 L358.3,277.5 L360.6,279.1 L363.4,279.2 L366.7,281.7 L368.4,285.1 L370.9,287.6 L373.5,291.0 L376.0,293.5 L379.3,296.0 L382.7,297.7 L386.9,296.8 L390.3,295.2 L393.0,294.5 L395.1,292.6 L400.1,293.4 L401.2,290.8 L403.5,289.2 L406.0,290.1 L410.2,291.8 L411.1,296.0 L414.4,299.3 L416.1,303.5 L419.5,306.1 L422.4,306.4 L425.3,306.9 L428.7,310.3 L430.4,314.5 L433.7,317.8 L438.8,317.0 L443.8,316.1 L447.2,319.5 L448.9,323.7 L448.0,328.7 L448.9,332.1 L446.3,336.3 L443.0,338.8 L440.9,340.6 L439.6,343.0 L437.0,344.6 L435.4,347.2 L432.9,348.1 L430.4,348.9 L426.2,347.2 L422.8,346.4 L419.5,349.7 L416.1,349.7 L414.7,352.0 L412.7,353.9 L411.9,357.1 L410.2,360.0 L407.4,362.7 L405.7,366.2 L403.5,369.0 L400.7,371.2 L398.7,373.6 L397.0,376.2 L396.3,379.8 L394.5,383.0 L393.3,385.7 L391.5,388.0 L391.0,391.0 L390.9,393.7 L389.1,396.0 L388.9,398.6 L388.2,401.2 L386.0,403.4 L384.6,406.0 L383.2,408.7 L381.9,411.4 L379.3,413.3 L378.2,416.2 L377.0,419.1 L376.4,422.4 L374.5,425.0 L373.5,427.9 L371.2,430.0 L369.5,432.5 L369.1,435.4 L368.9,438.3 L368.2,441.2 L367.0,443.7 L365.1,445.6 L363.2,447.5 L360.9,450.2 L358.2,452.5 L356.8,454.8 L356.5,457.5 L355.5,462.2 L355.0,465.6 L353.0,468.5 L350.8,470.1 L349.2,472.2 L348.1,475.2 L348.0,478.5 L345.9,481.4 L343.0,483.5 L338.0,484.7 L335.7,483.2 L333.1,482.7 L330.5,482.2 L327.2,482.2 L324.2,483.5 L323.0,487.2 L320.7,489.9 L318.0,492.2 L314.3,493.1 L310.5,493.5 L306.7,493.4 L303.0,493.0 L300.0,491.8 L296.7,492.2 L293.5,493.3 L290.5,494.7 L287.3,494.3 L284.2,493.5 L281.1,493.6 L278.0,493.5 L274.2,493.2 L270.5,492.2 L266.9,493.6 L263.0,493.5 L259.6,492.8 L256.7,491.0 L253.9,491.8 L249.7,493.5 L247.2,497.7 L244.7,501.1 L241.3,503.6 L237.1,505.3 L234.6,508.7 L230.4,509.5 L228.7,506.1 L226.2,504.5 L224.5,507.8 L221.2,511.2 L219.5,514.5 L215.3,513.7 L212.6,514.0 L210.3,515.4 L206.9,518.7 L203.5,517.1 L200.2,515.4 L196.8,517.9 L194.3,522.1 L192.9,524.4 L190.9,526.3 L186.7,528.0 L182.5,529.7 L179.8,529.9 L177.6,531.8 L175.1,532.6 L172.5,533.1 L170.0,534.0 L166.9,534.1 L164.0,533.4 L161.1,532.1 L158.1,531.8 L155.0,532.0 L152.8,530.5 L150.3,529.8 L148.1,528.4 L145.7,527.3 L143.0,527.0 L140.4,524.5 L137.7,522.2 L136.1,519.5 L134.0,517.2 L131.6,515.9 L130.2,513.5 L127.1,513.1 L124.0,513.5 L121.3,512.9 L118.7,512.2 L116.5,509.4 L113.7,507.2 L112.2,505.0 L110.1,503.3 L108.7,501.0 L107.3,498.4 L107.3,495.5 L105.2,493.3 L102.3,492.2 L99.4,490.6 L97.2,488.0 L95.1,485.9 L93.0,483.8 L89.7,480.4 L88.0,476.2 L85.5,472.9 L82.9,472.3 L80.4,471.2 L77.1,467.8 L74.8,465.9 L72.9,463.6 L68.7,461.1 L66.1,456.9 L65.2,453.8 L63.6,451.0 L62.5,448.4 L60.3,446.8 L61.1,443.4 L59.1,441.1 L57.7,438.4 L56.7,435.8 L55.2,433.4 L52.8,432.1 L50.9,430.2 L48.7,428.7 L45.0,427.5 L46.7,425.5 L48.7,423.7 L51.0,422.0 L53.7,421.2 L54.3,417.4 L56.0,414.0 L56.6,411.2 L58.6,408.9 L59.0,406.0 L60.2,403.7 L61.5,401.4 L63.6,398.3 L64.7,394.0 L64.3,390.5 L65.4,387.1 L64.7,383.6 L67.8,380.4 L71.0,378.3 L74.1,375.2 L76.8,376.2 L79.6,375.5 L82.3,375.2 L85.0,376.0 L87.3,374.5 L89.8,373.4 L92.4,372.8 L95.0,372.0 L94.9,369.2 L95.8,366.5 L96.4,363.8 L97.4,361.3 L98.5,358.7 L98.9,355.9 L98.9,353.1 L99.5,350.4 L100.3,347.8 L100.6,345.0 L101.2,342.3 L102.0,339.7 L105.4,337.2 L105.5,333.7 L107.0,330.5 L110.4,327.1" fill="none" stroke="#000" stroke-width="1.4" stroke-linejoin="round" stroke-linecap="round" />
<path d="M102.9,317.9 L103.4,320.8 L103.4,323.7 L106.2,326.3 L110.4,327.1" fill="none" stroke="#000" stroke-width="0.9" stroke-linejoin="round" stroke-linecap="round" />
<path d="M112.1,441.0 L113.1,439.1 L116.0,439.1 L119.0,438.1 L121.2,436.6 L124.9,437.1 L128.5,435.9 L130.5,435.1 L132.2,433.7 L134.2,432.0 L136.6,430.7 L138.5,429.6 L140.3,428.5 L142.5,427.9 L144.7,427.1 L148.4,425.6 L149.6,426.4 L150.6,423.4 L152.6,422.5 L154.3,421.2 L156.0,419.9 L157.9,419.0 L160.1,416.0 L160.9,413.1 L163.8,414.6 L167.5,416.0 L169.0,419.0 L167.5,422.6 L164.6,424.9 L161.6,426.3 L158.7,427.1 L155.0,428.5 L152.1,430.7 L149.1,432.2 L146.2,433.7 L142.5,435.1 L139.6,436.6 L135.9,438.1 L132.2,439.6 L130.4,440.9 L128.5,441.8 L125.6,443.5 L123.4,444.1 L121.2,444.4 L117.5,443.5 L113.8,444.0 L112.1,442.9Z" fill="#000" stroke="#000" stroke-width="0.5" stroke-linejoin="round"/>
<ellipse cx="194.6" cy="399.9" rx="3.5" ry="1.6" fill="#000" transform="rotate(-25 194.6 399.9)"/>
<circle cx="451.4" cy="325.4" r="1.4" fill="none" stroke="#111" stroke-width="0.8"/><circle cx="451.4" cy="325.4" r="0.4" fill="#111"/>
</g>
<path d="M83.70,353.90 L83.70,330.20 A23.7,23.7 0 0 1 102.73,339.77 Z" fill="#ffff00" stroke="#ffff00" stroke-width="0.3"/>
<path d="M83.70,353.90 L102.73,339.77 A23.7,23.7 0 0 1 92.96,375.72 Z" fill="#0f4be6" stroke="#0f4be6" stroke-width="0.3"/>
<path d="M83.70,353.90 L92.96,375.72 A23.7,23.7 0 0 1 74.06,375.55 Z" fill="#6cc644" stroke="#6cc644" stroke-width="0.3"/>
<path d="M83.70,353.90 L74.06,375.55 A23.7,23.7 0 0 1 83.70,330.20 Z" fill="#ff0000" stroke="#ff0000" stroke-width="0.3"/>
<path d="M77.00,421.40 L77.00,397.70 A23.7,23.7 0 0 1 96.29,407.64 Z" fill="#ffff00" stroke="#ffff00" stroke-width="0.3"/>
<path d="M77.00,421.40 L96.29,407.64 A23.7,23.7 0 0 1 62.51,440.15 Z" fill="#0f4be6" stroke="#0f4be6" stroke-width="0.3"/>
<path d="M77.00,421.40 L62.51,440.15 A23.7,23.7 0 0 1 53.30,421.40 Z" fill="#6cc644" stroke="#6cc644" stroke-width="0.3"/>
<path d="M77.00,421.40 L53.30,421.40 A23.7,23.7 0 0 1 77.00,397.70 Z" fill="#ff0000" stroke="#ff0000" stroke-width="0.3"/>
<path d="M162.00,517.20 L162.00,493.50 A23.7,23.7 0 0 1 185.57,514.72 Z" fill="#ffff00" stroke="#ffff00" stroke-width="0.3"/>
<path d="M162.00,517.20 L185.57,514.72 A23.7,23.7 0 0 1 144.50,533.18 Z" fill="#0f4be6" stroke="#0f4be6" stroke-width="0.3"/>
<path d="M162.00,517.20 L144.50,533.18 A23.7,23.7 0 0 1 139.00,522.93 Z" fill="#6cc644" stroke="#6cc644" stroke-width="0.3"/>
<path d="M162.00,517.20 L139.00,522.93 A23.7,23.7 0 0 1 162.00,493.50 Z" fill="#ff0000" stroke="#ff0000" stroke-width="0.3"/>
<path d="M241.20,436.20 L241.20,412.50 A23.7,23.7 0 0 1 258.25,419.74 Z" fill="#ffff00" stroke="#ffff00" stroke-width="0.3"/>
<path d="M241.20,436.20 L258.25,419.74 A23.7,23.7 0 0 1 258.81,452.06 Z" fill="#0f4be6" stroke="#0f4be6" stroke-width="0.3"/>
<path d="M241.20,436.20 L258.81,452.06 A23.7,23.7 0 0 1 218.36,429.87 Z" fill="#6cc644" stroke="#6cc644" stroke-width="0.3"/>
<path d="M241.20,436.20 L218.36,429.87 A23.7,23.7 0 0 1 241.20,412.50 Z" fill="#ff0000" stroke="#ff0000" stroke-width="0.3"/>
<path d="M289.30,412.00 L289.30,388.30 A23.7,23.7 0 1 1 286.41,435.52 Z" fill="#ffff00" stroke="#ffff00" stroke-width="0.3"/>
<path d="M289.30,412.00 L286.41,435.52 A23.7,23.7 0 0 1 271.14,427.23 Z" fill="#0f4be6" stroke="#0f4be6" stroke-width="0.3"/>
<path d="M289.30,412.00 L271.14,427.23 A23.7,23.7 0 0 1 272.25,395.54 Z" fill="#6cc644" stroke="#6cc644" stroke-width="0.3"/>
<path d="M289.30,412.00 L272.25,395.54 A23.7,23.7 0 0 1 289.30,388.30 Z" fill="#ff0000" stroke="#ff0000" stroke-width="0.3"/>
<path d="M316.60,346.20 L316.60,322.50 A23.7,23.7 0 0 1 339.94,342.08 Z" fill="#ffff00" stroke="#ffff00" stroke-width="0.3"/>
<path d="M316.60,346.20 L339.94,342.08 A23.7,23.7 0 0 1 317.43,369.89 Z" fill="#0f4be6" stroke="#0f4be6" stroke-width="0.3"/>
<path d="M316.60,346.20 L317.43,369.89 A23.7,23.7 0 0 1 293.42,351.13 Z" fill="#6cc644" stroke="#6cc644" stroke-width="0.3"/>
<path d="M316.60,346.20 L293.42,351.13 A23.7,23.7 0 0 1 316.60,322.50 Z" fill="#ff0000" stroke="#ff0000" stroke-width="0.3"/>
<path d="M373.70,366.40 L373.70,342.70 A23.7,23.7 0 0 1 396.70,372.13 Z" fill="#ffff00" stroke="#ffff00" stroke-width="0.3"/>
<path d="M373.70,366.40 L396.70,372.13 A23.7,23.7 0 0 1 381.02,388.94 Z" fill="#0f4be6" stroke="#0f4be6" stroke-width="0.3"/>
<path d="M373.70,366.40 L381.02,388.94 A23.7,23.7 0 0 1 360.79,346.52 Z" fill="#6cc644" stroke="#6cc644" stroke-width="0.3"/>
<path d="M373.70,366.40 L360.79,346.52 A23.7,23.7 0 0 1 373.70,342.70 Z" fill="#ff0000" stroke="#ff0000" stroke-width="0.3"/>
<rect x="67.5" y="315.6" width="32.7" height="9.3" fill="#1450f2"/>
<text x="69.30" y="322.65" font-size="6.8" fill="#fff" textLength="29.1" lengthAdjust="spacingAndGlyphs">Lake Fertő</text>
<rect x="48.4" y="385.1" width="57.1" height="9.6" fill="#1450f2"/>
<text x="50.20" y="392.30" font-size="6.8" fill="#fff" textLength="53.5" lengthAdjust="spacingAndGlyphs">Csörnöc-Herpenyő</text>
<rect x="140.9" y="478.3" width="42.0" height="9.8" fill="#1450f2"/>
<text x="142.70" y="485.60" font-size="6.8" fill="#fff" textLength="38.4" lengthAdjust="spacingAndGlyphs">Cun-Szaporca</text>
<rect x="224.1" y="397.3" width="33.6" height="9.8" fill="#1450f2"/>
<text x="225.90" y="404.60" font-size="6.8" fill="#fff" textLength="30.0" lengthAdjust="spacingAndGlyphs">Lake Kolon</text>
<rect x="266.3" y="373.3" width="46.7" height="9.6" fill="#1450f2"/>
<text x="268.10" y="380.50" font-size="6.8" fill="#fff" textLength="43.1" lengthAdjust="spacingAndGlyphs">Cibakházi-Tisza</text>
<rect x="302.9" y="307.3" width="25.2" height="9.4" fill="#1450f2"/>
<text x="304.70" y="314.40" font-size="6.8" fill="#fff" textLength="21.6" lengthAdjust="spacingAndGlyphs">Tisza-tó</text>
<rect x="359" y="330.4" width="29.0" height="9.8" fill="#1450f2"/>
<text x="360.80" y="337.70" font-size="6.8" fill="#fff" textLength="25.4" lengthAdjust="spacingAndGlyphs">Derecske</text>
</svg>
</body></html>
